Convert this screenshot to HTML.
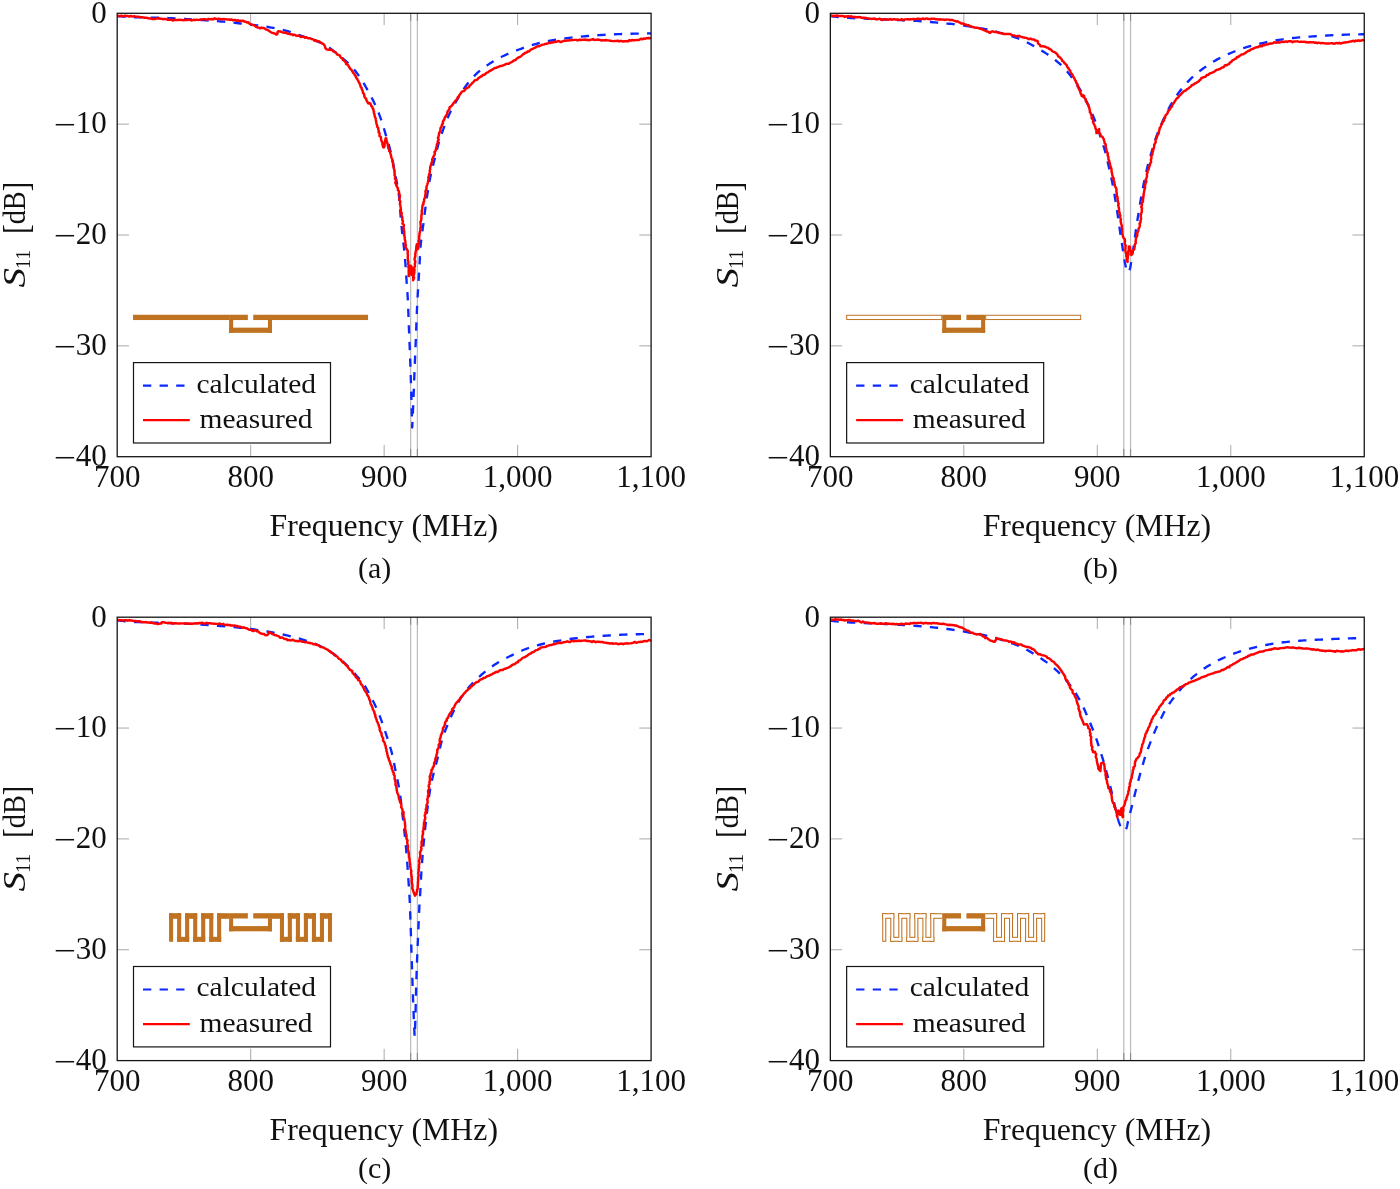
<!DOCTYPE html>
<html lang="en"><head><meta charset="utf-8"><title>S11 of four antennas: calculated vs measured</title>
<style>html,body{margin:0;padding:0;background:#fff}body{width:1400px;height:1189px;overflow:hidden}svg{display:block}text{font-family:"Liberation Serif", "DejaVu Serif", serif;fill:#111}</style></head><body>
<svg width="1400" height="1189" viewBox="0 0 1400 1189">
<rect width="1400" height="1189" fill="#fff"/>
<g id="panel-a">
<line x1="410.65" y1="13.3" x2="410.65" y2="456.7" stroke="#bcbcbc" stroke-width="1.25"/>
<line x1="410.65" y1="13.3" x2="410.65" y2="20.9" stroke="#8a8a8a" stroke-width="1.1"/>
<line x1="410.65" y1="456.7" x2="410.65" y2="449.1" stroke="#8a8a8a" stroke-width="1.1"/>
<line x1="417.4" y1="13.3" x2="417.4" y2="456.7" stroke="#bcbcbc" stroke-width="1.25"/>
<line x1="417.4" y1="13.3" x2="417.4" y2="20.9" stroke="#8a8a8a" stroke-width="1.1"/>
<line x1="417.4" y1="456.7" x2="417.4" y2="449.1" stroke="#8a8a8a" stroke-width="1.1"/>
<path d="M250.68 13.3v11.8 M250.68 456.7v-11.8" stroke="#8c8c8c" stroke-width="0.75" fill="none"/>
<path d="M117.2 124.15h11.8 M651.1 124.15h-11.8" stroke="#8c8c8c" stroke-width="0.75" fill="none"/>
<path d="M384.15 13.3v11.8 M384.15 456.7v-11.8" stroke="#8c8c8c" stroke-width="0.75" fill="none"/>
<path d="M117.2 235h11.8 M651.1 235h-11.8" stroke="#8c8c8c" stroke-width="0.75" fill="none"/>
<path d="M517.62 13.3v11.8 M517.62 456.7v-11.8" stroke="#8c8c8c" stroke-width="0.75" fill="none"/>
<path d="M117.2 345.85h11.8 M651.1 345.85h-11.8" stroke="#8c8c8c" stroke-width="0.75" fill="none"/>
<g><rect x="133.05" y="314.75" width="96.05" height="5.3" fill="#bf7220"/><rect x="272" y="314.75" width="96.05" height="5.3" fill="#bf7220"/><rect x="229.1" y="314.75" width="18.75" height="5.3" fill="#bf7220"/><rect x="229.1" y="319.75" width="4.05" height="13.1" fill="#bf7220"/><rect x="253.25" y="314.75" width="18.75" height="5.3" fill="#bf7220"/><rect x="267.95" y="319.75" width="4.05" height="13.1" fill="#bf7220"/><rect x="229.1" y="327.65" width="42.9" height="5.2" fill="#bf7220"/></g>
<path d="M117.5 16.1 L119.21 16.24 L120.92 16.39 L122.61 16.55 L124.32 16.7 L126.02 16.85 L127.75 16.98 L129.49 17.1 L131.25 17.2 L133.17 17.28 L135.11 17.34 L137.08 17.38 L139.06 17.4 L141.06 17.42 L143.05 17.44 L145.03 17.47 L147 17.5 L148.94 17.54 L150.88 17.57 L152.81 17.61 L154.74 17.65 L156.67 17.69 L158.6 17.73 L160.55 17.79 L162.5 17.85 L164.51 17.92 L166.54 18 L168.57 18.09 L170.6 18.18 L172.64 18.28 L174.68 18.39 L176.72 18.49 L178.75 18.6 L180.78 18.71 L182.81 18.83 L184.84 18.95 L186.88 19.08 L188.91 19.2 L190.94 19.33 L192.97 19.47 L195 19.6 L197.03 19.74 L199.06 19.87 L201.09 20.02 L203.13 20.16 L205.16 20.3 L207.19 20.45 L209.22 20.6 L211.25 20.75 L213.28 20.9 L215.3 21.04 L217.32 21.18 L219.34 21.33 L221.36 21.48 L223.4 21.64 L225.44 21.81 L227.5 22 L229.66 22.22 L231.85 22.45 L234.05 22.7 L236.25 22.96 L238.46 23.22 L240.66 23.49 L242.84 23.75 L245 24 L247.07 24.23 L249.14 24.46 L251.2 24.68 L253.25 24.91 L255.29 25.14 L257.3 25.37 L259.29 25.63 L261.25 25.9 L263.02 26.16 L264.74 26.43 L266.44 26.7 L268.12 26.99 L269.8 27.29 L271.5 27.6 L273.22 27.94 L275 28.3 L277.06 28.73 L279.19 29.19 L281.36 29.67 L283.55 30.17 L285.74 30.7 L287.89 31.24 L289.98 31.81 L292 32.4 L293.72 32.95 L295.39 33.53 L297.02 34.14 L298.62 34.76 L300.21 35.38 L301.79 36 L303.39 36.61 L305 37.2 L306.63 37.75 L308.27 38.27 L309.91 38.78 L311.56 39.29 L313.19 39.8 L314.82 40.35 L316.42 40.95 L318 41.6 L319.56 42.31 L321.11 43.06 L322.65 43.84 L324.17 44.66 L325.67 45.5 L327.14 46.38 L328.59 47.28 L330 48.2 L331.33 49.12 L332.61 50.07 L333.87 51.06 L335.1 52.06 L336.33 53.08 L337.54 54.12 L338.76 55.16 L340 56.2 L341.29 57.26 L342.58 58.32 L343.87 59.38 L345.17 60.45 L346.45 61.55 L347.72 62.68 L348.97 63.86 L350.2 65.1 L351.52 66.52 L352.82 68 L354.1 69.52 L355.37 71.1 L356.61 72.71 L357.83 74.35 L359.03 76.02 L360.2 77.7 L361.39 79.48 L362.54 81.31 L363.67 83.17 L364.78 85.06 L365.86 86.97 L366.92 88.89 L367.97 90.8 L369 92.7 L370 94.56 L370.99 96.42 L371.97 98.29 L372.93 100.16 L373.86 102.03 L374.77 103.92 L375.65 105.8 L376.5 107.7 L377.3 109.58 L378.08 111.48 L378.83 113.39 L379.56 115.3 L380.26 117.21 L380.93 119.1 L381.58 120.97 L382.2 122.8 L382.72 124.4 L383.21 125.97 L383.67 127.51 L384.12 129.04 L384.55 130.57 L384.99 132.12 L385.43 133.69 L385.9 135.3 L386.44 137.09 L386.99 138.9 L387.56 140.73 L388.12 142.58 L388.69 144.45 L389.24 146.36 L389.78 148.31 L390.3 150.3 L390.86 152.61 L391.39 154.97 L391.91 157.37 L392.41 159.82 L392.91 162.31 L393.4 164.84 L393.9 167.4 L394.4 170 L394.99 172.99 L395.59 176.06 L396.21 179.2 L396.82 182.38 L397.41 185.57 L397.96 188.75 L398.46 191.9 L398.9 195 L399.24 197.9 L399.52 200.79 L399.76 203.68 L399.96 206.54 L400.15 209.39 L400.33 212.2 L400.53 214.97 L400.75 217.7 L400.97 220.16 L401.2 222.62 L401.43 225.05 L401.67 227.45 L401.9 229.81 L402.13 232.11 L402.37 234.35 L402.6 236.5 L402.79 238.16 L402.98 239.74 L403.17 241.25 L403.36 242.73 L403.55 244.21 L403.73 245.73 L403.92 247.31 L404.1 249 L404.33 251.28 L404.55 253.68 L404.77 256.18 L404.99 258.74 L405.21 261.34 L405.41 263.93 L405.61 266.5 L405.8 269 L405.97 271.42 L406.14 273.9 L406.29 276.38 L406.44 278.85 L406.59 281.26 L406.73 283.58 L406.86 285.77 L407 287.8 L407.09 289.07 L407.18 290.2 L407.27 291.25 L407.36 292.27 L407.44 293.3 L407.53 294.4 L407.61 295.61 L407.7 297 L407.85 299.97 L408.01 303.39 L408.16 307.15 L408.3 311.16 L408.45 315.31 L408.6 319.51 L408.75 323.64 L408.9 327.6 L409.06 331.5 L409.22 335.4 L409.38 339.31 L409.54 343.23 L409.7 347.14 L409.85 351.06 L410.01 354.98 L410.15 358.9 L410.29 362.8 L410.42 366.67 L410.54 370.54 L410.67 374.4 L410.79 378.29 L410.91 382.22 L411.03 386.2 L411.15 390.25 L411.28 394.75 L411.42 399.34 L411.55 403.98 L411.68 408.67 L411.81 413.39 L411.94 418.11 L412.07 422.82 L412.2 427.5 L412.34 424.43 L412.48 421.39 L412.61 418.37 L412.75 415.33 L412.89 412.28 L413.03 409.18 L413.16 406.03 L413.3 402.8 L413.45 399.07 L413.6 395.24 L413.75 391.34 L413.9 387.38 L414.04 383.4 L414.19 379.42 L414.35 375.44 L414.5 371.5 L414.66 367.58 L414.82 363.65 L414.98 359.73 L415.15 355.8 L415.32 351.87 L415.48 347.95 L415.64 344.02 L415.8 340.1 L415.95 336.12 L416.11 332.05 L416.26 327.93 L416.4 323.84 L416.55 319.83 L416.7 315.94 L416.85 312.25 L417 308.8 L417.11 306.47 L417.22 304.3 L417.32 302.24 L417.43 300.24 L417.54 298.26 L417.66 296.26 L417.77 294.19 L417.9 292 L418.06 289.3 L418.22 286.53 L418.4 283.68 L418.57 280.79 L418.76 277.85 L418.94 274.9 L419.12 271.95 L419.3 269 L419.47 265.92 L419.63 262.81 L419.79 259.67 L419.94 256.52 L420.11 253.37 L420.31 250.23 L420.53 247.1 L420.8 244 L421.12 240.96 L421.48 237.88 L421.88 234.79 L422.3 231.72 L422.72 228.7 L423.14 225.76 L423.54 222.91 L423.9 220.2 L424.15 218.18 L424.38 216.29 L424.6 214.48 L424.81 212.71 L425.03 210.94 L425.26 209.11 L425.51 207.18 L425.8 205.1 L426.24 202.02 L426.72 198.68 L427.24 195.16 L427.8 191.54 L428.37 187.89 L428.97 184.3 L429.58 180.85 L430.2 177.6 L430.74 175.02 L431.3 172.52 L431.87 170.09 L432.46 167.7 L433.05 165.36 L433.65 163.06 L434.23 160.77 L434.8 158.5 L435.3 156.46 L435.79 154.45 L436.27 152.48 L436.74 150.52 L437.23 148.58 L437.73 146.65 L438.25 144.73 L438.8 142.8 L439.37 140.9 L439.95 139.01 L440.55 137.13 L441.17 135.26 L441.8 133.39 L442.45 131.52 L443.11 129.66 L443.8 127.8 L444.51 125.91 L445.23 124.01 L445.97 122.12 L446.73 120.23 L447.51 118.34 L448.32 116.48 L449.14 114.63 L450 112.8 L450.87 111.03 L451.77 109.28 L452.7 107.54 L453.65 105.82 L454.61 104.11 L455.6 102.41 L456.59 100.71 L457.6 99 L458.63 97.25 L459.66 95.5 L460.7 93.74 L461.77 91.99 L462.85 90.26 L463.98 88.54 L465.14 86.85 L466.35 85.2 L467.63 83.55 L468.95 81.9 L470.31 80.28 L471.71 78.68 L473.14 77.11 L474.6 75.59 L476.09 74.12 L477.6 72.7 L479.09 71.39 L480.6 70.12 L482.15 68.9 L483.72 67.72 L485.32 66.58 L486.93 65.46 L488.56 64.37 L490.2 63.3 L491.85 62.25 L493.52 61.24 L495.21 60.25 L496.91 59.29 L498.63 58.36 L500.37 57.45 L502.13 56.57 L503.9 55.7 L505.73 54.84 L507.59 54.02 L509.46 53.22 L511.36 52.44 L513.26 51.68 L515.17 50.94 L517.09 50.22 L519 49.5 L520.92 48.79 L522.84 48.09 L524.76 47.41 L526.7 46.74 L528.64 46.1 L530.58 45.47 L532.54 44.87 L534.5 44.3 L536.48 43.76 L538.46 43.24 L540.45 42.75 L542.45 42.28 L544.45 41.83 L546.46 41.4 L548.48 40.99 L550.5 40.6 L552.55 40.22 L554.6 39.87 L556.66 39.54 L558.73 39.22 L560.8 38.93 L562.87 38.64 L564.94 38.37 L567 38.1 L569.03 37.85 L571.07 37.61 L573.1 37.39 L575.13 37.18 L577.16 36.97 L579.19 36.78 L581.22 36.59 L583.25 36.4 L585.28 36.22 L587.31 36.04 L589.34 35.86 L591.37 35.7 L593.4 35.54 L595.44 35.38 L597.47 35.24 L599.5 35.1 L601.53 34.97 L603.56 34.85 L605.59 34.73 L607.62 34.63 L609.66 34.52 L611.69 34.43 L613.72 34.34 L615.75 34.25 L617.77 34.17 L619.78 34.1 L621.79 34.03 L623.8 33.97 L625.81 33.91 L627.85 33.85 L629.91 33.8 L632 33.75 L634.3 33.7 L636.65 33.65 L639.02 33.6 L641.41 33.56 L643.81 33.52 L646.22 33.48 L648.61 33.44 L651 33.4" fill="none" stroke="#0a28ff" stroke-width="2.35" stroke-dasharray="8.3 8.3" stroke-linejoin="round"/>
<path d="M117.5 15.75 L118.79 15.95 L120.09 16.27 L121.41 15.52 L122.69 16.27 L123.99 16.05 L125.31 15.67 L126.6 15.99 L127.89 16.09 L129.17 16.56 L130.51 15.96 L131.79 16.28 L133.08 16.5 L134.41 16.16 L135.67 16.76 L136.97 16.8 L138.28 16.66 L139.57 16.89 L140.83 17.3 L142.16 17.15 L143.41 17.56 L144.69 17.8 L146.02 17.75 L147.29 18 L148.57 18.27 L149.85 18.48 L151.15 18.49 L152.41 19.04 L153.73 18.88 L155.05 18.99 L156.31 18.39 L157.63 18.5 L158.95 18.23 L160.21 18.8 L161.52 18.67 L162.77 19.19 L164.1 19.04 L165.41 18.98 L166.68 19.3 L167.94 19.76 L169.25 19.74 L170.56 19.69 L171.85 19.92 L173.13 20.54 L174.46 19.8 L175.76 19.94 L177.06 19.97 L178.36 19.94 L179.66 19.68 L180.96 19.98 L182.26 19.91 L183.55 20.37 L184.86 19.81 L186.16 20.09 L187.46 19.99 L188.76 19.56 L190.06 19.97 L191.36 20.43 L192.66 20.17 L193.95 19.72 L195.25 19.94 L196.54 19.73 L197.85 19.85 L199.16 19.91 L200.43 19.5 L201.72 19.36 L203.02 19.3 L204.33 19.34 L205.63 19.29 L206.97 19.91 L208.21 18.79 L209.53 19.23 L210.84 19.33 L212.13 19.03 L213.44 19.37 L214.7 18.2 L216.03 18.98 L217.33 18.87 L218.63 18.65 L219.93 19.06 L221.23 19.29 L222.52 19.29 L223.83 18.87 L225.11 19.37 L226.42 19.26 L227.69 19.63 L229.01 19.5 L230.27 19.97 L231.63 19.43 L232.84 20.31 L234.17 20.06 L235.49 20.05 L236.69 20.86 L238.1 20.18 L239.3 20.96 L240.65 20.71 L241.91 21.08 L243.28 20.83 L244.45 21.63 L245.78 21.68 L246.9 22.46 L248.4 22.29 L249.24 23.57 L250.46 24.02 L251.55 24.75 L252.8 25.15 L254.22 25.21 L255.23 26.1 L256.26 26.95 L257.48 27.45 L258.79 27.64 L260.06 28.37 L261.33 27.54 L262.61 28.02 L263.91 28.08 L265.04 28.69 L266.05 29.52 L267.4 29.87 L268.46 30.56 L269.51 31.3 L270.62 32 L271.76 32.65 L273.01 33.04 L274.27 33.39 L275.41 34.04 L276.58 34.61 L277.51 33.62 L277.4 32.19 L278.33 31.14 L279.4 31.43 L280.7 31.58 L281.9 32.16 L283.15 32.49 L284.41 32.82 L285.83 32.54 L286.94 33.43 L288.18 33.8 L289.49 33.96 L290.74 34.31 L292.06 34.38 L293.2 35.16 L294.67 34.65 L295.8 35.51 L297.07 35.78 L298.44 35.62 L299.63 36.18 L300.81 36.92 L302.14 36.9 L303.53 36.49 L304.64 37.72 L306.06 37.17 L307.26 37.8 L308.47 38.38 L309.87 38.13 L311.05 38.76 L312.24 39.31 L313.59 39.38 L314.48 40.71 L316.03 40.28 L316.99 41.38 L318.53 41.11 L319.65 41.79 L320.71 42.61 L321.86 43.2 L322.99 43.87 L323.91 44.51 L324.68 45.59 L325.07 46.83 L325.37 48.13 L326.28 49.14 L327.33 49.47 L328.62 49.68 L329.94 49.47 L331.16 50.07 L332.51 50.27 L333.42 51.34 L334.56 51.95 L335.79 52.46 L336.54 53.62 L337.39 54.64 L338.77 55.01 L339.96 55.64 L340.43 57.05 L341.28 58.04 L342.72 58.46 L342.96 60 L344.14 60.69 L345.05 61.63 L345.91 62.6 L346.07 64.13 L347.5 64.66 L348.45 65.57 L348.92 66.85 L349.81 67.8 L350.28 69.07 L351.46 69.82 L352.08 70.97 L352.82 72.05 L353.46 73.18 L354.49 74.05 L354.82 75.39 L355.85 76.28 L356.05 77.69 L357.01 78.62 L357.64 79.76 L358.3 80.88 L358.74 82.12 L359.49 83.19 L359.94 84.42 L360.44 85.62 L360.7 86.92 L361.62 87.94 L361.76 89.28 L362.5 90.38 L362.8 91.66 L362.98 92.97 L364.02 93.99 L364.23 95.29 L364.43 96.61 L364.97 97.81 L366.23 98.66 L366.35 100.03 L366.96 101.18 L367.64 102.29 L368.27 103.43 L368.87 103.07 L370.45 103.37 L370.82 104.64 L371.17 105.91 L372.29 106.82 L372.56 108.13 L373.42 109.23 L373.43 110.59 L374.07 111.75 L373.83 113.18 L374.55 114.33 L374.58 115.67 L374.91 116.92 L375.61 118.09 L375.72 119.4 L376.01 120.67 L376.21 121.96 L376.42 123.25 L376.73 124.51 L377.22 125.73 L377.3 127.05 L378.23 128.15 L378.27 129.48 L378.8 130.69 L378.54 132.11 L379.51 133.19 L379.53 134.53 L379.48 135.9 L380.79 136.87 L380.96 138.18 L381.07 139.5 L381.43 140.75 L382.02 141.93 L382.45 143.16 L382.43 144.53 L382.84 145.76 L383.08 147.05 L383.84 147.43 L384.35 146.21 L384.66 144.95 L384.63 143.62 L384.9 142.34 L384.92 141.02 L385.4 139.79 L385.6 138.51 L386.24 138.27 L386.38 139.59 L386.73 140.84 L387.08 142.09 L387.31 143.37 L387.97 144.54 L387.81 145.93 L388.23 147.17 L388.37 148.48 L389.38 149.55 L389.13 150.97 L390.07 152.05 L390.38 153.31 L390.8 154.54 L391.08 155.82 L391.23 157.13 L391.73 158.34 L392.36 159.52 L392.3 160.87 L392.7 162.11 L393.11 163.35 L393.05 164.68 L393.21 165.97 L393.66 167.21 L393.87 168.49 L394.16 169.77 L394.68 171.01 L394.28 172.37 L394.82 173.61 L394.47 174.97 L395.07 176.2 L395.03 177.52 L394.96 178.84 L395.91 180.02 L395.61 181.38 L395.27 182.77 L395.88 183.97 L396.35 185.22 L396.84 186.42 L397.47 187.57 L398.02 188.74 L397.86 190.17 L398.91 191.19 L399.05 192.5 L399.21 193.79 L399.79 195.04 L399.91 196.34 L399.68 197.66 L399.19 198.98 L399.59 200.26 L400.29 201.51 L400.17 202.83 L399.91 204.16 L400.32 205.41 L400.5 206.7 L400.69 207.99 L400.89 209.27 L401.01 210.57 L400.7 211.94 L401.85 213.06 L401.38 214.46 L401.75 215.72 L402.19 216.96 L402.38 218.25 L402.16 219.6 L402.85 220.81 L402.74 222.13 L402.47 223.48 L403.81 224.63 L403.82 225.94 L403.5 227.28 L403.81 228.55 L403.58 229.89 L404.22 231.12 L404.14 232.44 L404.45 233.71 L404.03 235.07 L404.52 236.32 L404.83 237.59 L404.71 238.92 L404.97 240.2 L405.37 241.46 L405.46 242.76 L405.39 244.07 L405.94 245.31 L405.32 246.71 L406 247.93 L406.64 249.04 L407.35 250.09 L407.85 251.26 L407.66 252.57 L407.77 253.87 L407.95 255.16 L407.84 256.47 L407.74 257.78 L407.93 259.07 L407.87 260.37 L408.43 261.65 L408.27 262.96 L408.21 264.26 L408.85 265.53 L408.33 266.86 L408.79 268.14 L408.69 269.44 L408.71 270.75 L408.6 272.05 L408.83 273.34 L408.69 274.65 L408.69 275.95 L408.92 275.95 L408.98 274.64 L409.75 273.46 L409.34 272.07 L410.24 270.9 L410.26 269.59 L410.61 268.33 L410.06 266.92 L410.61 265.69 L411.25 266.16 L411.84 267.42 L411.19 268.77 L411.33 270.06 L411.02 271.38 L411.18 272.67 L411.51 273.96 L411.46 274.74 L411.67 273.45 L411.87 272.16 L412.2 270.89 L411.78 269.55 L411.78 268.24 L412.21 268.62 L412.54 269.9 L411.82 271.28 L412.33 272.53 L413.05 273.76 L412.89 275.09 L412.98 276.39 L413.16 277.67 L413.26 278.97 L413.13 280.29 L413.58 279.05 L414.09 277.81 L413.76 276.45 L413.61 275.13 L414.12 273.88 L414.4 272.6 L414.22 271.28 L414.62 270.01 L414.19 268.67 L414.35 267.38 L414.98 266.12 L414.84 264.81 L414.84 263.51 L415.28 262.23 L415.15 260.92 L414.5 259.58 L414.62 258.29 L415.02 257.01 L415.39 255.73 L415.12 254.4 L415.55 253.13 L415.6 251.83 L416.14 250.57 L416.15 249.28 L416.26 247.99 L416.36 246.68 L416.58 245.4 L416.9 244.14 L417.27 245.11 L418.23 246.2 L417.15 247.83 L418.1 248.92 L418.5 247.84 L418.07 246.49 L418.42 245.22 L419.2 243.99 L418.94 242.66 L418.45 241.3 L419.11 240.06 L419.16 238.76 L419.27 237.46 L419.1 236.14 L419.53 234.88 L419.45 233.56 L419.93 232.3 L419.99 231 L420.66 229.76 L420.2 228.41 L420.87 227.17 L420.71 225.85 L420.57 224.53 L420.55 223.23 L420.39 221.91 L420.96 220.65 L421.28 219.37 L421.44 218.08 L421.32 216.77 L421.37 215.47 L421.81 214.2 L421.87 212.9 L421.75 211.58 L421.86 210.28 L422.28 209.03 L422.28 207.72 L422.41 206.42 L422.6 205.14 L423.55 204 L423.27 202.61 L424.17 201.51 L424.09 200.15 L424.25 198.84 L425.14 197.72 L425.09 196.37 L425.29 195.08 L425.61 193.82 L425.51 192.47 L425.46 191.14 L426.13 189.94 L426.6 188.71 L426.34 187.34 L426.73 186.09 L427.2 184.85 L427.5 183.59 L427.89 182.33 L428.2 181.07 L428.36 179.78 L428.44 178.47 L428.32 177.13 L428.85 175.91 L429.16 174.64 L429.57 173.4 L429.82 172.13 L429.69 170.77 L430.14 169.54 L430.14 168.21 L430.3 166.91 L430.72 165.67 L431.19 164.45 L431.36 163.15 L432.05 161.99 L432.38 160.73 L432.12 159.3 L432.94 158.19 L433.15 156.89 L433.97 155.79 L434.54 154.61 L434.92 153.37 L434.46 151.84 L435.56 150.84 L435.91 149.58 L436.11 148.28 L436.4 147.02 L436.93 145.81 L436.77 144.44 L437.64 143.29 L437.67 141.98 L437.99 140.71 L438.76 139.53 L437.87 138.05 L438.5 136.84 L438.66 135.55 L439.01 134.29 L439.09 132.97 L439.91 131.84 L440.44 130.63 L440.36 129.28 L440.53 127.96 L441.42 126.9 L441.74 125.63 L442.06 124.36 L443 123.35 L442.81 121.85 L443.37 120.67 L444.27 119.65 L444.57 118.36 L444.94 117.1 L445.87 116.09 L446.5 114.95 L447.29 113.89 L447.33 112.47 L447.73 111.21 L448.57 110.18 L449.48 109.2 L449.42 107.66 L450.38 106.68 L451.52 105.91 L452.32 104.88 L453.13 103.87 L453.81 102.74 L454.74 101.82 L455.37 100.69 L456.47 99.87 L457.31 98.85 L457.61 97.5 L458.6 96.59 L459.16 95.41 L459.94 94.36 L460.79 93.38 L461.45 92.2 L462.41 91.33 L463.85 91.03 L464.77 90.1 L465.62 89.06 L466.67 88.3 L467.73 87.55 L469.05 87.07 L469.49 85.63 L470.6 84.91 L471.51 83.99 L472.26 82.88 L473.4 82.2 L474.11 81.03 L475.11 80.15 L476.6 79.96 L477.65 79.21 L478.44 78.07 L479.6 77.46 L480.55 76.53 L481.94 76.29 L482.63 74.95 L484.1 74.84 L485.24 74.22 L486.06 73.08 L487.24 72.51 L488.47 72.03 L489.38 71.02 L490.63 70.59 L491.74 69.9 L492.86 69.25 L493.93 68.46 L495.13 67.96 L496.48 67.8 L497.55 66.96 L498.85 66.72 L499.99 66.03 L501.38 66.11 L502.53 65.46 L503.78 65.08 L504.96 64.52 L506.15 63.97 L507.48 63.82 L508.84 63.72 L509.88 62.83 L511.15 62.45 L512.28 61.8 L513.27 60.88 L514.34 60.16 L515.76 59.97 L516.51 58.72 L517.66 58.11 L518.73 57.38 L519.95 56.85 L521.12 56.25 L522.02 55.28 L522.91 54.26 L524.13 53.75 L525.09 52.82 L526.5 52.64 L527.36 51.55 L528.86 51.53 L529.81 50.58 L530.79 49.68 L531.97 49.13 L533.22 48.7 L534.27 47.9 L535.53 47.53 L536.54 46.61 L537.8 46.22 L539.2 46.22 L540.32 45.54 L541.51 44.99 L542.76 44.62 L544.09 44.54 L545.24 43.85 L546.57 43.83 L547.79 43.33 L548.96 42.65 L550.37 43.05 L551.55 42.32 L552.89 42.54 L554.12 41.84 L555.45 41.99 L556.71 41.59 L557.97 41.09 L559.29 41.23 L560.67 42.1 L561.92 41.52 L563.18 41.04 L564.46 40.69 L565.76 40.66 L567.06 40.56 L568.36 40.48 L569.65 40.32 L570.96 40.35 L572.24 40.04 L573.54 40.07 L574.84 39.86 L576.14 39.88 L577.47 40.46 L578.75 39.98 L580.04 39.78 L581.35 39.97 L582.64 39.67 L583.95 39.82 L585.24 39.54 L586.55 39.99 L587.85 39.84 L589.15 40.27 L590.45 39.81 L591.75 39.59 L593.05 39.1 L594.34 39.93 L595.65 39.89 L596.95 39.82 L598.26 39.5 L599.55 39.87 L600.83 40.21 L602.11 40.52 L603.44 40.12 L604.72 40.46 L606.05 40.04 L607.34 40.27 L608.64 40.36 L609.91 40.71 L611.21 40.82 L612.5 41.15 L613.8 41.12 L615.11 40.91 L616.41 41 L617.73 40.65 L619 41.45 L620.31 40.97 L621.61 41.03 L622.91 41.49 L624.21 41.12 L625.51 41.19 L626.81 41.18 L628.15 41.41 L629.33 40.1 L630.7 40.72 L631.93 40.06 L633.25 40.18 L634.57 40.24 L635.86 40.1 L637.16 40.03 L638.47 39.99 L639.73 39.61 L640.91 38.74 L642.32 39.35 L643.52 38.59 L644.86 38.72 L646.1 38.29 L647.42 38.3 L648.7 38.06 L650.05 38.28 L651 37.75" fill="none" stroke="#ff0000" stroke-width="2.45" stroke-linejoin="round"/>
<rect x="117.2" y="13.3" width="533.9" height="443.4" fill="none" stroke="#151515" stroke-width="1.3"/>
<rect x="133.5" y="362.6" width="197" height="80.4" fill="#fff" stroke="#151515" stroke-width="1.2"/>
<line x1="143" y1="385.6" x2="184.5" y2="385.6" stroke="#0a28ff" stroke-width="2.2" stroke-dasharray="8.3 8.3"/>
<line x1="143" y1="420.15" x2="189.8" y2="420.15" stroke="#ff0000" stroke-width="2.2"/>
<text x="196.5" y="392.5" font-size="27.5" textLength="119.5" lengthAdjust="spacingAndGlyphs">calculated</text>
<text x="199.6" y="427.6" font-size="27.5" textLength="113" lengthAdjust="spacingAndGlyphs">measured</text>
<text x="106.8" y="23.4" font-size="31" text-anchor="end">0</text>
<text y="133.05" font-size="31"><tspan x="53.7" dy="2.1" textLength="22.3" lengthAdjust="spacingAndGlyphs">−</tspan><tspan x="75.8" dy="-2.1">10</tspan></text>
<text y="243.9" font-size="31"><tspan x="53.7" dy="2.1" textLength="22.3" lengthAdjust="spacingAndGlyphs">−</tspan><tspan x="75.8" dy="-2.1">20</tspan></text>
<text y="354.75" font-size="31"><tspan x="53.7" dy="2.1" textLength="22.3" lengthAdjust="spacingAndGlyphs">−</tspan><tspan x="75.8" dy="-2.1">30</tspan></text>
<text y="465.6" font-size="31"><tspan x="53.7" dy="2.1" textLength="22.3" lengthAdjust="spacingAndGlyphs">−</tspan><tspan x="75.8" dy="-2.1">40</tspan></text>
<text x="117.2" y="486.9" font-size="31" text-anchor="middle">700</text>
<text x="250.68" y="486.9" font-size="31" text-anchor="middle">800</text>
<text x="384.15" y="486.9" font-size="31" text-anchor="middle">900</text>
<text x="517.62" y="486.9" font-size="31" text-anchor="middle">1,000</text>
<text x="651.1" y="486.9" font-size="31" text-anchor="middle">1,100</text>
<text x="383.75" y="535.7" font-size="31" text-anchor="middle" textLength="228.5" lengthAdjust="spacingAndGlyphs">Frequency (MHz)</text>
<text transform="translate(25.3 287.5) rotate(-90)" font-size="31"><tspan x="0" font-style="italic" textLength="19.5" lengthAdjust="spacingAndGlyphs">S</tspan><tspan x="18.4" dy="4.5" font-size="20">11</tspan><tspan x="53.7" dy="-1.9" font-size="36.5" textLength="9.43" lengthAdjust="spacingAndGlyphs">[</tspan><tspan x="63.13" dy="-2.6" textLength="33.07" lengthAdjust="spacingAndGlyphs">dB</tspan><tspan x="96.2" dy="2.6" font-size="36.5" textLength="9.43" lengthAdjust="spacingAndGlyphs">]</tspan></text>
<text x="374.7" y="578.4" font-size="30" text-anchor="middle">(a)</text>
</g>
<g id="panel-b">
<line x1="1123.8" y1="13.3" x2="1123.8" y2="456.7" stroke="#bcbcbc" stroke-width="1.25"/>
<line x1="1123.8" y1="13.3" x2="1123.8" y2="20.9" stroke="#8a8a8a" stroke-width="1.1"/>
<line x1="1123.8" y1="456.7" x2="1123.8" y2="449.1" stroke="#8a8a8a" stroke-width="1.1"/>
<line x1="1130.55" y1="13.3" x2="1130.55" y2="456.7" stroke="#bcbcbc" stroke-width="1.25"/>
<line x1="1130.55" y1="13.3" x2="1130.55" y2="20.9" stroke="#8a8a8a" stroke-width="1.1"/>
<line x1="1130.55" y1="456.7" x2="1130.55" y2="449.1" stroke="#8a8a8a" stroke-width="1.1"/>
<path d="M963.83 13.3v11.8 M963.83 456.7v-11.8" stroke="#8c8c8c" stroke-width="0.75" fill="none"/>
<path d="M830.35 124.15h11.8 M1364.25 124.15h-11.8" stroke="#8c8c8c" stroke-width="0.75" fill="none"/>
<path d="M1097.3 13.3v11.8 M1097.3 456.7v-11.8" stroke="#8c8c8c" stroke-width="0.75" fill="none"/>
<path d="M830.35 235h11.8 M1364.25 235h-11.8" stroke="#8c8c8c" stroke-width="0.75" fill="none"/>
<path d="M1230.78 13.3v11.8 M1230.78 456.7v-11.8" stroke="#8c8c8c" stroke-width="0.75" fill="none"/>
<path d="M830.35 345.85h11.8 M1364.25 345.85h-11.8" stroke="#8c8c8c" stroke-width="0.75" fill="none"/>
<g><rect x="846.7" y="315.25" width="95.05" height="4.3" fill="#fff" stroke="#bf7220" stroke-width="1"/><rect x="985.65" y="315.25" width="95.05" height="4.3" fill="#fff" stroke="#bf7220" stroke-width="1"/><rect x="942.25" y="314.75" width="18.75" height="5.3" fill="#bf7220"/><rect x="942.25" y="319.75" width="4.05" height="13.1" fill="#bf7220"/><rect x="966.4" y="314.75" width="18.75" height="5.3" fill="#bf7220"/><rect x="981.1" y="319.75" width="4.05" height="13.1" fill="#bf7220"/><rect x="942.25" y="327.65" width="42.9" height="5.2" fill="#bf7220"/></g>
<path d="M830.5 16.1 L832.05 16.28 L833.59 16.46 L835.11 16.65 L836.65 16.84 L838.19 17.02 L839.76 17.19 L841.36 17.35 L843 17.5 L844.93 17.65 L846.9 17.78 L848.92 17.9 L850.97 18.01 L853.04 18.11 L855.12 18.21 L857.19 18.3 L859.25 18.4 L861.33 18.5 L863.42 18.59 L865.51 18.67 L867.6 18.76 L869.7 18.84 L871.8 18.92 L873.9 19.01 L876 19.1 L878.12 19.2 L880.25 19.3 L882.38 19.4 L884.52 19.51 L886.65 19.61 L888.77 19.71 L890.89 19.81 L893 19.9 L895.05 19.98 L897.1 20.05 L899.13 20.12 L901.17 20.18 L903.2 20.25 L905.22 20.32 L907.24 20.41 L909.25 20.5 L911.22 20.6 L913.18 20.71 L915.13 20.82 L917.08 20.95 L919.03 21.07 L920.98 21.21 L922.93 21.35 L924.9 21.5 L926.91 21.66 L928.93 21.84 L930.95 22.02 L932.98 22.21 L935.01 22.41 L937.04 22.61 L939.07 22.8 L941.1 23 L943.14 23.19 L945.18 23.37 L947.23 23.56 L949.27 23.74 L951.32 23.93 L953.35 24.14 L955.38 24.36 L957.4 24.6 L959.37 24.86 L961.32 25.13 L963.27 25.42 L965.21 25.72 L967.15 26.03 L969.09 26.35 L971.04 26.67 L973 27 L975.02 27.33 L977.04 27.66 L979.08 27.99 L981.11 28.33 L983.15 28.68 L985.19 29.06 L987.22 29.46 L989.25 29.9 L991.31 30.38 L993.37 30.9 L995.43 31.44 L997.48 32.01 L999.53 32.59 L1001.57 33.19 L1003.6 33.79 L1005.6 34.4 L1007.52 34.98 L1009.41 35.55 L1011.3 36.13 L1013.18 36.71 L1015.04 37.33 L1016.9 37.97 L1018.75 38.66 L1020.6 39.4 L1022.5 40.22 L1024.41 41.1 L1026.3 42.01 L1028.19 42.97 L1030.07 43.95 L1031.93 44.95 L1033.78 45.97 L1035.6 47 L1037.38 48.02 L1039.15 49.06 L1040.9 50.11 L1042.64 51.18 L1044.36 52.28 L1046.06 53.39 L1047.74 54.53 L1049.4 55.7 L1051.04 56.88 L1052.66 58.08 L1054.27 59.29 L1055.87 60.53 L1057.43 61.8 L1058.96 63.1 L1060.45 64.43 L1061.9 65.8 L1063.27 67.18 L1064.6 68.59 L1065.88 70.03 L1067.14 71.51 L1068.37 73.01 L1069.58 74.54 L1070.79 76.1 L1072 77.7 L1073.31 79.46 L1074.62 81.28 L1075.91 83.13 L1077.2 85.02 L1078.45 86.93 L1079.68 88.86 L1080.86 90.78 L1082 92.7 L1083.05 94.55 L1084.05 96.41 L1085.02 98.27 L1085.95 100.15 L1086.86 102.03 L1087.75 103.92 L1088.63 105.81 L1089.5 107.7 L1090.35 109.57 L1091.18 111.45 L1092 113.33 L1092.8 115.22 L1093.58 117.11 L1094.34 119.01 L1095.08 120.9 L1095.8 122.8 L1096.48 124.67 L1097.14 126.55 L1097.78 128.44 L1098.4 130.33 L1099.01 132.21 L1099.61 134.09 L1100.2 135.95 L1100.8 137.8 L1101.37 139.55 L1101.95 141.27 L1102.52 142.99 L1103.08 144.7 L1103.64 146.41 L1104.18 148.12 L1104.7 149.85 L1105.2 151.6 L1105.69 153.4 L1106.15 155.2 L1106.59 157.01 L1107.01 158.83 L1107.43 160.66 L1107.85 162.52 L1108.27 164.4 L1108.7 166.3 L1109.18 168.41 L1109.67 170.56 L1110.16 172.74 L1110.64 174.95 L1111.13 177.16 L1111.6 179.38 L1112.06 181.6 L1112.5 183.8 L1112.92 186 L1113.34 188.21 L1113.74 190.42 L1114.13 192.63 L1114.51 194.84 L1114.88 197.04 L1115.24 199.23 L1115.6 201.4 L1115.94 203.46 L1116.26 205.5 L1116.58 207.53 L1116.88 209.55 L1117.19 211.57 L1117.49 213.6 L1117.79 215.64 L1118.1 217.7 L1118.42 219.86 L1118.73 222.05 L1119.04 224.24 L1119.35 226.45 L1119.66 228.66 L1119.97 230.86 L1120.28 233.04 L1120.6 235.2 L1120.91 237.29 L1121.24 239.38 L1121.56 241.48 L1121.89 243.56 L1122.22 245.62 L1122.54 247.64 L1122.85 249.6 L1123.15 251.5 L1123.39 253.05 L1123.62 254.58 L1123.85 256.09 L1124.07 257.56 L1124.29 258.99 L1124.52 260.38 L1124.75 261.72 L1125 263 L1125.2 263.99 L1125.39 264.96 L1125.59 265.92 L1125.79 266.84 L1126 267.72 L1126.22 268.55 L1126.45 269.31 L1126.7 270 L1126.87 270.4 L1127.05 270.76 L1127.24 271.09 L1127.43 271.39 L1127.62 271.69 L1127.82 271.99 L1128.01 272.29 L1128.2 272.6 L1128.38 272.29 L1128.56 271.99 L1128.74 271.7 L1128.92 271.4 L1129.1 271.1 L1129.27 270.77 L1129.44 270.4 L1129.6 270 L1129.84 269.24 L1130.06 268.38 L1130.26 267.44 L1130.45 266.43 L1130.64 265.37 L1130.82 264.27 L1131 263.14 L1131.2 262 L1131.47 260.45 L1131.74 258.8 L1132.02 257.09 L1132.3 255.32 L1132.58 253.51 L1132.85 251.67 L1133.13 249.83 L1133.4 248 L1133.69 246 L1133.98 243.97 L1134.26 241.91 L1134.54 239.83 L1134.83 237.74 L1135.11 235.65 L1135.4 233.57 L1135.7 231.5 L1136 229.46 L1136.3 227.44 L1136.61 225.43 L1136.91 223.41 L1137.23 221.39 L1137.54 219.35 L1137.87 217.29 L1138.2 215.2 L1138.57 212.9 L1138.94 210.56 L1139.32 208.19 L1139.71 205.8 L1140.1 203.41 L1140.5 201.03 L1140.9 198.69 L1141.3 196.4 L1141.68 194.3 L1142.06 192.24 L1142.44 190.2 L1142.82 188.17 L1143.22 186.16 L1143.62 184.14 L1144.03 182.13 L1144.45 180.1 L1144.89 178.04 L1145.34 175.96 L1145.8 173.86 L1146.27 171.78 L1146.75 169.71 L1147.23 167.68 L1147.72 165.71 L1148.2 163.8 L1148.61 162.24 L1149.02 160.76 L1149.42 159.32 L1149.83 157.9 L1150.25 156.48 L1150.68 155.04 L1151.13 153.56 L1151.6 152 L1152.18 150.04 L1152.78 148 L1153.4 145.89 L1154.04 143.76 L1154.7 141.6 L1155.38 139.46 L1156.08 137.35 L1156.8 135.3 L1157.52 133.37 L1158.26 131.47 L1159.02 129.59 L1159.81 127.72 L1160.6 125.87 L1161.42 124.01 L1162.25 122.16 L1163.1 120.3 L1163.97 118.4 L1164.85 116.5 L1165.74 114.6 L1166.65 112.7 L1167.58 110.81 L1168.55 108.93 L1169.55 107.06 L1170.6 105.2 L1171.73 103.28 L1172.9 101.36 L1174.11 99.44 L1175.35 97.53 L1176.62 95.64 L1177.93 93.79 L1179.25 91.97 L1180.6 90.2 L1181.93 88.53 L1183.28 86.89 L1184.65 85.27 L1186.05 83.69 L1187.48 82.14 L1188.93 80.63 L1190.4 79.14 L1191.9 77.7 L1193.39 76.33 L1194.9 74.99 L1196.43 73.7 L1197.99 72.43 L1199.56 71.19 L1201.16 69.97 L1202.77 68.78 L1204.4 67.6 L1206.06 66.43 L1207.74 65.28 L1209.44 64.15 L1211.16 63.04 L1212.89 61.96 L1214.64 60.91 L1216.41 59.89 L1218.2 58.9 L1220.02 57.94 L1221.86 57.01 L1223.73 56.11 L1225.61 55.24 L1227.5 54.4 L1229.4 53.58 L1231.3 52.78 L1233.2 52 L1235.07 51.25 L1236.93 50.52 L1238.8 49.81 L1240.68 49.12 L1242.56 48.46 L1244.46 47.81 L1246.37 47.2 L1248.3 46.6 L1250.3 46.02 L1252.31 45.47 L1254.34 44.94 L1256.39 44.44 L1258.44 43.96 L1260.5 43.49 L1262.55 43.04 L1264.6 42.6 L1266.63 42.17 L1268.67 41.76 L1270.7 41.36 L1272.74 40.98 L1274.78 40.61 L1276.82 40.26 L1278.86 39.92 L1280.9 39.6 L1282.92 39.3 L1284.93 39.02 L1286.94 38.75 L1288.95 38.5 L1290.96 38.26 L1292.99 38.03 L1295.03 37.81 L1297.1 37.6 L1299.3 37.39 L1301.53 37.2 L1303.78 37.02 L1306.05 36.86 L1308.31 36.7 L1310.56 36.55 L1312.8 36.4 L1315 36.25 L1317.07 36.11 L1319.12 35.97 L1321.15 35.84 L1323.17 35.71 L1325.19 35.59 L1327.21 35.47 L1329.22 35.36 L1331.25 35.25 L1333.28 35.15 L1335.31 35.06 L1337.34 34.97 L1339.37 34.88 L1341.4 34.81 L1343.43 34.73 L1345.46 34.66 L1347.5 34.6 L1349.56 34.54 L1351.62 34.49 L1353.68 34.45 L1355.74 34.41 L1357.81 34.37 L1359.87 34.33 L1361.94 34.29 L1364 34.25" fill="none" stroke="#0a28ff" stroke-width="2.35" stroke-dasharray="8.3 8.3" stroke-linejoin="round"/>
<path d="M830.5 15.75 L831.81 15.47 L833.09 16.19 L834.4 15.78 L835.7 15.93 L837.01 15.47 L838.3 15.99 L839.6 15.93 L840.9 15.93 L842.2 15.9 L843.49 16.14 L844.76 16.91 L846.08 16.42 L847.39 16.27 L848.7 16.19 L849.98 16.58 L851.31 16.16 L852.55 16.97 L853.87 16.86 L855.16 16.96 L856.44 17.21 L857.74 17.29 L859.1 16.95 L860.38 17.16 L861.6 17.85 L862.93 17.71 L864.2 18.04 L865.53 17.82 L866.79 18.15 L868.08 18.42 L869.35 18.85 L870.66 18.85 L871.96 18.93 L873.27 18.67 L874.58 18.58 L875.84 19.32 L877.14 19.28 L878.46 19.09 L879.78 18.61 L881.03 19.68 L882.32 20.02 L883.66 19.11 L884.95 19.33 L886.25 19.34 L887.55 19.52 L888.84 19.68 L890.16 18.9 L891.44 19.86 L892.75 19.31 L894.05 19.3 L895.35 19.51 L896.65 19.54 L897.95 19.52 L899.25 19.85 L900.55 19.66 L901.84 19.15 L903.17 20.19 L904.45 19.43 L905.74 19.35 L907.04 19.31 L908.34 19.27 L909.66 19.64 L910.94 19.1 L912.24 19.19 L913.53 18.84 L914.86 19.44 L916.14 19.06 L917.43 18.82 L918.73 18.65 L920.04 18.95 L921.35 19.24 L922.63 18.51 L923.94 19 L925.23 18.92 L926.53 18.36 L927.83 18.97 L929.12 18.99 L930.42 19.17 L931.73 18.62 L933.03 18.71 L934.33 18.72 L935.6 19.29 L936.91 19.23 L938.19 19.48 L939.49 19.52 L940.81 19.32 L942.09 19.65 L943.4 19.54 L944.67 19.95 L946 19.57 L947.31 19.61 L948.61 19.63 L949.87 20.08 L951.21 19.88 L952.51 19.98 L953.74 20.59 L955 20.92 L956.19 21.54 L957.58 21.32 L958.74 22.03 L959.92 22.57 L960.98 23.41 L962.36 23.39 L963.65 23.67 L964.66 24.61 L966.12 24.52 L967.11 25.5 L968.68 25.14 L969.7 26.04 L970.99 26.25 L972.07 27.14 L973.39 27.09 L974.65 27.48 L975.93 27.69 L977.24 27.73 L978.46 28.23 L979.67 28.7 L981.07 28.61 L982.19 29.37 L983.38 29.89 L984.56 30.43 L985.79 30.88 L986.89 31.59 L988.35 31.62 L989.26 32.67 L990.27 32.89 L991.03 31.82 L992.22 31.34 L993.5 31.57 L994.74 32.05 L996.1 31.84 L997.35 32.24 L998.57 32.77 L999.84 33.07 L1001.1 33.38 L1002.43 33.35 L1003.65 33.91 L1004.96 33.97 L1006.29 33.91 L1007.6 33.98 L1008.9 34.07 L1010.25 33.91 L1011.43 34.72 L1012.63 35.37 L1013.95 35.37 L1015.18 35.85 L1016.44 36.22 L1017.82 35.95 L1019.15 35.92 L1020.34 36.57 L1021.61 36.86 L1022.82 37.38 L1024.11 37.56 L1025.38 37.87 L1026.68 38 L1027.87 38.63 L1029.06 39.25 L1030.55 38.59 L1031.7 39.34 L1033.03 39.46 L1034.37 39.51 L1035.34 40.65 L1036.8 40.66 L1037.91 41.56 L1037.92 43.26 L1039 44.06 L1039.97 44.99 L1040.49 46.2 L1041.77 46.36 L1043.05 46.27 L1044.31 46.47 L1045.51 46.87 L1046.62 47.5 L1048.04 47.62 L1048.87 48.76 L1050.11 49.24 L1051.25 49.88 L1052.05 50.99 L1053.21 51.6 L1054.48 52.08 L1055.63 52.76 L1056.57 53.66 L1057.53 54.56 L1057.96 55.99 L1058.98 56.79 L1060.03 57.58 L1060.98 58.48 L1061.82 59.46 L1062.23 60.81 L1063.45 61.49 L1064.12 62.63 L1065.04 63.54 L1065.92 64.5 L1066.88 65.41 L1067.07 66.87 L1068.16 67.69 L1068.67 68.9 L1069.39 69.99 L1070.34 70.92 L1070.47 72.35 L1071.19 73.42 L1072.27 74.32 L1072.77 75.53 L1073.32 76.7 L1073.95 77.84 L1074.65 78.94 L1075.12 80.16 L1075.93 81.21 L1076.07 82.59 L1076.97 83.61 L1077.64 84.74 L1077.65 86.15 L1078.07 87.38 L1078.91 88.44 L1079.17 89.74 L1080.03 90.79 L1080.26 92.1 L1080.59 93.37 L1081.46 94.42 L1081.57 95.78 L1082.68 96.51 L1083.25 95.25 L1084.16 96.14 L1084.1 97.64 L1085.24 98.51 L1085.86 99.66 L1085.78 101.13 L1086.64 102.17 L1087.14 103.36 L1088.01 104.42 L1088.39 105.68 L1088.79 106.91 L1089.41 108.08 L1089.49 109.42 L1089.99 110.63 L1089.76 112.07 L1090.66 113.14 L1091.04 114.39 L1091.56 115.58 L1091.65 116.92 L1091.62 118.29 L1092.8 119.29 L1093.08 120.56 L1092.91 121.97 L1093.54 123.14 L1094.08 124.33 L1094.64 125.52 L1095.31 126.66 L1095.31 128.03 L1095.97 129.18 L1096.33 130.43 L1096.44 131.77 L1096.43 133.14 L1097.78 132.78 L1097.99 131.46 L1098.4 130.22 L1099.11 129.11 L1099.07 130.28 L1099.1 131.6 L1099.42 132.89 L1100.33 133.96 L1100.6 135.26 L1101.47 136.33 L1102.58 137.02 L1103.06 138.14 L1103.87 139.22 L1103.95 140.53 L1104.54 141.72 L1104.56 143.04 L1105.6 144.15 L1105.73 145.45 L1105.82 146.76 L1106.08 148.03 L1106.4 149.29 L1106.5 150.61 L1107.01 151.82 L1107.65 153 L1107.74 154.32 L1107.73 155.66 L1108.36 156.84 L1108.48 158.15 L1108.43 159.5 L1109.2 160.65 L1109.39 161.94 L1109.86 163.17 L1110.09 164.45 L1110.21 165.75 L1110.82 166.95 L1111.15 168.21 L1111.54 169.45 L1111.54 170.78 L1111.66 172.09 L1112.08 173.33 L1112.19 174.64 L1112.58 175.88 L1112.82 177.16 L1113.73 178.27 L1113.5 179.67 L1113.93 180.91 L1114.41 182.12 L1114.36 183.48 L1114.83 184.7 L1114.88 186.03 L1115.53 187.2 L1116.16 188.39 L1116.56 189.64 L1116.34 191.01 L1116.59 192.29 L1116.78 193.57 L1116.69 194.89 L1117.11 196.15 L1117.51 197.41 L1117.71 198.69 L1117.64 200.01 L1117.99 201.28 L1118.09 202.57 L1118.73 203.79 L1118.15 205.19 L1118.52 206.45 L1118.82 207.72 L1119.05 209 L1118.95 210.33 L1119.04 211.63 L1119.72 212.85 L1119.61 214.18 L1120.34 215.38 L1120.16 216.72 L1120.36 218.01 L1121 219.22 L1120.56 220.61 L1120.74 221.89 L1121.03 223.17 L1121.38 224.43 L1121.96 225.66 L1121.8 226.99 L1122.09 228.27 L1122.27 229.55 L1122.12 230.88 L1122.32 232.17 L1122.18 233.49 L1122.62 234.75 L1122.93 236.02 L1123.26 237.29 L1123.84 238.29 L1124.8 239.21 L1124.99 240.5 L1124.9 241.81 L1124.76 243.13 L1125.01 244.41 L1125.79 245.65 L1125.33 247 L1125.52 248.28 L1125.37 249.61 L1125.45 250.91 L1125.57 252.2 L1126.27 253.43 L1126.3 254.74 L1126.19 256.06 L1126.86 257.28 L1126.62 258.63 L1127.21 259.86 L1126.92 261.21 L1127.64 261.96 L1127.39 260.63 L1127.61 259.35 L1127.71 258.05 L1127.84 256.76 L1128.09 255.47 L1128.13 254.17 L1127.53 252.8 L1128.36 251.58 L1128.53 250.29 L1128.97 249.03 L1128.72 247.7 L1128.9 246.39 L1129.92 246.71 L1130.09 248 L1130.16 249.31 L1130.33 250.59 L1130.77 251.85 L1130.7 253.17 L1130.73 254.48 L1131.57 254.96 L1132.28 253.81 L1131.73 252.26 L1132.47 251.13 L1133.19 250.03 L1134.32 249.17 L1134.4 247.74 L1134.78 246.49 L1134.56 245.13 L1135.32 243.94 L1135.86 242.71 L1135.5 241.34 L1135.86 240.08 L1135.85 238.76 L1136.23 237.5 L1136.94 236.33 L1137.4 235.11 L1137.04 233.68 L1137.54 232.47 L1138.05 231.26 L1138.48 230.03 L1138.59 228.71 L1139.26 227.56 L1139.66 226.32 L1139.88 225.02 L1139.55 223.66 L1140.57 222.5 L1140.38 221.15 L1140.84 219.9 L1141.05 218.62 L1140.94 217.3 L1140.71 215.97 L1140.92 214.69 L1141.19 213.41 L1141.67 212.14 L1141.92 210.87 L1141.72 209.54 L1142.03 208.26 L1141.07 206.86 L1141.85 205.63 L1141.98 204.33 L1141.73 202.99 L1142.92 201.84 L1143 200.53 L1142.91 199.21 L1143.38 197.96 L1143.18 196.62 L1143.75 195.39 L1143.53 194.05 L1143.98 192.8 L1144.09 191.5 L1144.35 190.23 L1144.77 188.98 L1145.07 187.71 L1145.07 186.39 L1144.91 185.05 L1145.53 183.84 L1145.71 182.55 L1146.41 181.36 L1145.53 179.87 L1146.29 178.69 L1146.67 177.44 L1147.02 176.19 L1146.93 174.84 L1146.91 173.49 L1147.64 172.33 L1147.53 170.96 L1148.35 169.83 L1148.8 168.61 L1149.06 167.33 L1149.49 166.1 L1150.05 164.9 L1149.94 163.53 L1151.04 162.47 L1151.1 161.14 L1150.81 159.73 L1151.39 158.53 L1151.47 157.21 L1151.31 155.84 L1152.24 154.72 L1152.46 153.44 L1152.6 152.14 L1153.11 150.92 L1153.16 149.59 L1153.74 148.4 L1154.05 147.14 L1154.21 145.83 L1154.23 144.49 L1155.09 143.38 L1155.76 142.22 L1155.48 140.78 L1155.81 139.52 L1156.56 138.39 L1156.88 137.12 L1157.27 135.89 L1157.77 134.68 L1158.62 133.6 L1158.94 132.33 L1158.96 130.96 L1159.56 129.8 L1159.54 128.4 L1160.41 127.34 L1160.86 126.12 L1161.27 124.88 L1162.11 123.83 L1162.16 122.43 L1163.22 121.49 L1164.08 120.46 L1163.83 118.89 L1165.06 118.05 L1165.12 116.62 L1165.59 115.39 L1166.53 114.42 L1167.41 113.43 L1167.87 112.2 L1168.18 110.86 L1169.45 110.11 L1169.99 108.92 L1170.54 107.73 L1171.64 106.89 L1172.24 105.74 L1172.48 104.34 L1173.52 103.47 L1174.17 102.34 L1174.86 101.23 L1175.58 100.15 L1176.25 99.01 L1177.14 98.06 L1178.38 97.4 L1178.9 96.13 L1179.93 95.31 L1180.88 94.42 L1181.69 93.38 L1182.65 92.5 L1183.5 91.49 L1184.68 90.88 L1185.92 90.35 L1186.8 89.36 L1187.97 88.76 L1189.01 87.98 L1189.91 87.01 L1191.08 86.42 L1191.76 85.13 L1193.06 84.72 L1194.22 84.11 L1195.21 83.25 L1196.51 82.85 L1197.55 82.06 L1198.67 81.39 L1199.49 80.31 L1200.62 79.65 L1201.19 78.22 L1202.48 77.77 L1203.59 77.09 L1204.98 76.84 L1206.1 76.18 L1206.85 74.9 L1208.24 74.73 L1209.23 73.83 L1210.37 73.19 L1211.67 72.89 L1212.82 72.29 L1214 71.76 L1215.11 71.04 L1216.13 70.16 L1217.37 69.77 L1218.59 69.29 L1219.91 69.01 L1220.92 68.14 L1222.09 67.56 L1223.47 67.36 L1224.29 66.18 L1225.22 65.22 L1226.81 65.28 L1227.78 64.39 L1229.19 64.13 L1229.71 62.6 L1230.97 62.13 L1231.85 61.11 L1232.76 60.14 L1234.04 59.71 L1235.01 58.82 L1236.28 58.38 L1236.95 57.03 L1238.42 56.91 L1239.29 55.86 L1240.53 55.38 L1241.53 54.53 L1242.97 54.37 L1244.08 53.71 L1245.24 53.13 L1246.23 52.25 L1247.3 51.54 L1248.45 50.93 L1249.71 50.52 L1250.7 49.62 L1251.9 49.13 L1253.16 48.76 L1254.25 48 L1255.51 47.66 L1256.7 47.12 L1258.11 47.24 L1259.14 46.21 L1260.45 46.01 L1261.87 46.26 L1262.85 44.92 L1264.29 45.27 L1265.41 44.42 L1266.78 44.54 L1268.04 44.24 L1269.26 43.71 L1270.54 43.49 L1271.86 43.45 L1273.11 43.1 L1274.29 42.31 L1275.67 42.66 L1276.96 42.5 L1278.24 42.21 L1279.58 42.54 L1280.85 42.16 L1282.11 41.67 L1283.45 42.07 L1284.72 41.76 L1286 41.43 L1287.34 41.92 L1288.6 41.21 L1289.9 41.2 L1291.21 41.3 L1292.52 42.18 L1293.81 41.53 L1295.11 41.47 L1296.41 41.35 L1297.71 41.33 L1299 41.86 L1300.29 41.76 L1301.6 41.61 L1302.89 41.87 L1304.2 41.7 L1305.47 42.21 L1306.78 42.09 L1308.06 42.44 L1309.38 42.26 L1310.68 42.21 L1311.97 42.41 L1313.3 42.11 L1314.56 42.73 L1315.87 42.58 L1317.13 43.16 L1318.47 42.64 L1319.76 42.88 L1321.04 43.21 L1322.35 42.98 L1323.65 43.14 L1324.94 43.39 L1326.24 43.42 L1327.54 43.47 L1328.84 43.42 L1330.14 43.35 L1331.44 43.28 L1332.74 43.26 L1334.05 43.83 L1335.34 43.26 L1336.63 42.93 L1337.96 43.41 L1339.21 42.76 L1340.58 43.62 L1341.84 43.03 L1343.12 42.74 L1344.38 42.36 L1345.72 42.56 L1346.97 42.11 L1348.26 41.94 L1349.53 41.65 L1350.83 41.59 L1352.08 41.08 L1353.36 40.82 L1354.75 41.46 L1355.95 40.6 L1357.28 40.77 L1358.54 40.35 L1359.93 40.94 L1361.19 40.54 L1362.43 40.03 L1363.78 40.34 L1364 39.9" fill="none" stroke="#ff0000" stroke-width="2.45" stroke-linejoin="round"/>
<rect x="830.35" y="13.3" width="533.9" height="443.4" fill="none" stroke="#151515" stroke-width="1.3"/>
<rect x="846.65" y="362.6" width="197" height="80.4" fill="#fff" stroke="#151515" stroke-width="1.2"/>
<line x1="856.15" y1="385.6" x2="897.65" y2="385.6" stroke="#0a28ff" stroke-width="2.2" stroke-dasharray="8.3 8.3"/>
<line x1="856.15" y1="420.15" x2="902.95" y2="420.15" stroke="#ff0000" stroke-width="2.2"/>
<text x="909.65" y="392.5" font-size="27.5" textLength="119.5" lengthAdjust="spacingAndGlyphs">calculated</text>
<text x="912.75" y="427.6" font-size="27.5" textLength="113" lengthAdjust="spacingAndGlyphs">measured</text>
<text x="819.95" y="23.4" font-size="31" text-anchor="end">0</text>
<text y="133.05" font-size="31"><tspan x="766.85" dy="2.1" textLength="22.3" lengthAdjust="spacingAndGlyphs">−</tspan><tspan x="788.95" dy="-2.1">10</tspan></text>
<text y="243.9" font-size="31"><tspan x="766.85" dy="2.1" textLength="22.3" lengthAdjust="spacingAndGlyphs">−</tspan><tspan x="788.95" dy="-2.1">20</tspan></text>
<text y="354.75" font-size="31"><tspan x="766.85" dy="2.1" textLength="22.3" lengthAdjust="spacingAndGlyphs">−</tspan><tspan x="788.95" dy="-2.1">30</tspan></text>
<text y="465.6" font-size="31"><tspan x="766.85" dy="2.1" textLength="22.3" lengthAdjust="spacingAndGlyphs">−</tspan><tspan x="788.95" dy="-2.1">40</tspan></text>
<text x="830.35" y="486.9" font-size="31" text-anchor="middle">700</text>
<text x="963.83" y="486.9" font-size="31" text-anchor="middle">800</text>
<text x="1097.3" y="486.9" font-size="31" text-anchor="middle">900</text>
<text x="1230.78" y="486.9" font-size="31" text-anchor="middle">1,000</text>
<text x="1364.25" y="486.9" font-size="31" text-anchor="middle">1,100</text>
<text x="1096.9" y="535.7" font-size="31" text-anchor="middle" textLength="228.5" lengthAdjust="spacingAndGlyphs">Frequency (MHz)</text>
<text transform="translate(738.45 287.5) rotate(-90)" font-size="31"><tspan x="0" font-style="italic" textLength="19.5" lengthAdjust="spacingAndGlyphs">S</tspan><tspan x="18.4" dy="4.5" font-size="20">11</tspan><tspan x="53.7" dy="-1.9" font-size="36.5" textLength="9.43" lengthAdjust="spacingAndGlyphs">[</tspan><tspan x="63.13" dy="-2.6" textLength="33.07" lengthAdjust="spacingAndGlyphs">dB</tspan><tspan x="96.2" dy="2.6" font-size="36.5" textLength="9.43" lengthAdjust="spacingAndGlyphs">]</tspan></text>
<text x="1100.5" y="578.4" font-size="30" text-anchor="middle">(b)</text>
</g>
<g id="panel-c">
<line x1="410.65" y1="617.2" x2="410.65" y2="1060.6" stroke="#bcbcbc" stroke-width="1.25"/>
<line x1="410.65" y1="617.2" x2="410.65" y2="624.8" stroke="#8a8a8a" stroke-width="1.1"/>
<line x1="410.65" y1="1060.6" x2="410.65" y2="1053" stroke="#8a8a8a" stroke-width="1.1"/>
<line x1="417.4" y1="617.2" x2="417.4" y2="1060.6" stroke="#bcbcbc" stroke-width="1.25"/>
<line x1="417.4" y1="617.2" x2="417.4" y2="624.8" stroke="#8a8a8a" stroke-width="1.1"/>
<line x1="417.4" y1="1060.6" x2="417.4" y2="1053" stroke="#8a8a8a" stroke-width="1.1"/>
<path d="M250.68 617.2v11.8 M250.68 1060.6v-11.8" stroke="#8c8c8c" stroke-width="0.75" fill="none"/>
<path d="M117.2 728.05h11.8 M651.1 728.05h-11.8" stroke="#8c8c8c" stroke-width="0.75" fill="none"/>
<path d="M384.15 617.2v11.8 M384.15 1060.6v-11.8" stroke="#8c8c8c" stroke-width="0.75" fill="none"/>
<path d="M117.2 838.9h11.8 M651.1 838.9h-11.8" stroke="#8c8c8c" stroke-width="0.75" fill="none"/>
<path d="M517.62 617.2v11.8 M517.62 1060.6v-11.8" stroke="#8c8c8c" stroke-width="0.75" fill="none"/>
<path d="M117.2 949.75h11.8 M651.1 949.75h-11.8" stroke="#8c8c8c" stroke-width="0.75" fill="none"/>
<g><rect x="169.07" y="913.2" width="4.05" height="28.6" fill="#bf7220"/><rect x="177.12" y="913.2" width="4.05" height="28.6" fill="#bf7220"/><rect x="185.12" y="913.2" width="4.05" height="28.6" fill="#bf7220"/><rect x="193.18" y="913.2" width="4.05" height="28.6" fill="#bf7220"/><rect x="201.18" y="913.2" width="4.05" height="28.6" fill="#bf7220"/><rect x="209.23" y="913.2" width="4.05" height="28.6" fill="#bf7220"/><rect x="217.12" y="913.2" width="4.05" height="28.6" fill="#bf7220"/><rect x="169.07" y="913.2" width="12.1" height="5.6" fill="#bf7220"/><rect x="185.12" y="913.2" width="12.1" height="5.6" fill="#bf7220"/><rect x="201.18" y="913.2" width="12.1" height="5.6" fill="#bf7220"/><rect x="217.12" y="913.2" width="11.98" height="5.6" fill="#bf7220"/><rect x="177.12" y="936.8" width="12.05" height="5" fill="#bf7220"/><rect x="193.18" y="936.8" width="12.05" height="5" fill="#bf7220"/><rect x="209.23" y="936.8" width="11.95" height="5" fill="#bf7220"/><rect x="327.98" y="913.2" width="4.05" height="28.6" fill="#bf7220"/><rect x="319.93" y="913.2" width="4.05" height="28.6" fill="#bf7220"/><rect x="311.93" y="913.2" width="4.05" height="28.6" fill="#bf7220"/><rect x="303.88" y="913.2" width="4.05" height="28.6" fill="#bf7220"/><rect x="295.88" y="913.2" width="4.05" height="28.6" fill="#bf7220"/><rect x="287.82" y="913.2" width="4.05" height="28.6" fill="#bf7220"/><rect x="279.93" y="913.2" width="4.05" height="28.6" fill="#bf7220"/><rect x="319.93" y="913.2" width="12.1" height="5.6" fill="#bf7220"/><rect x="303.88" y="913.2" width="12.1" height="5.6" fill="#bf7220"/><rect x="287.82" y="913.2" width="12.1" height="5.6" fill="#bf7220"/><rect x="272" y="913.2" width="11.98" height="5.6" fill="#bf7220"/><rect x="311.93" y="936.8" width="12.05" height="5" fill="#bf7220"/><rect x="295.88" y="936.8" width="12.05" height="5" fill="#bf7220"/><rect x="279.93" y="936.8" width="11.95" height="5" fill="#bf7220"/><rect x="229.1" y="913.2" width="18.75" height="5.3" fill="#bf7220"/><rect x="229.1" y="918.2" width="4.05" height="13.1" fill="#bf7220"/><rect x="253.25" y="913.2" width="18.75" height="5.3" fill="#bf7220"/><rect x="267.95" y="918.2" width="4.05" height="13.1" fill="#bf7220"/><rect x="229.1" y="926.1" width="42.9" height="5.2" fill="#bf7220"/></g>
<path d="M117.5 620.4 L119.04 620.57 L120.56 620.74 L122.06 620.91 L123.57 621.09 L125.1 621.26 L126.67 621.42 L128.3 621.57 L130 621.7 L132.27 621.85 L134.67 621.97 L137.15 622.07 L139.71 622.16 L142.29 622.25 L144.89 622.33 L147.47 622.41 L150 622.5 L152.48 622.59 L154.95 622.68 L157.4 622.77 L159.86 622.85 L162.34 622.93 L164.84 623.02 L167.39 623.11 L170 623.2 L173.03 623.3 L176.17 623.4 L179.39 623.5 L182.63 623.6 L185.86 623.7 L189.03 623.82 L192.09 623.95 L195 624.1 L197.27 624.24 L199.47 624.39 L201.6 624.55 L203.68 624.72 L205.73 624.9 L207.78 625.07 L209.83 625.24 L211.9 625.4 L213.94 625.55 L215.97 625.69 L218 625.84 L220.02 625.98 L222.04 626.12 L224.06 626.27 L226.08 626.43 L228.1 626.6 L230.14 626.78 L232.17 626.97 L234.21 627.16 L236.25 627.37 L238.29 627.57 L240.33 627.79 L242.37 628.02 L244.4 628.25 L246.43 628.49 L248.46 628.74 L250.48 628.99 L252.51 629.25 L254.53 629.52 L256.55 629.8 L258.58 630.1 L260.6 630.4 L262.64 630.72 L264.68 631.05 L266.73 631.39 L268.77 631.73 L270.82 632.1 L272.85 632.47 L274.88 632.85 L276.9 633.25 L278.89 633.66 L280.9 634.08 L282.9 634.51 L284.89 634.96 L286.87 635.41 L288.82 635.87 L290.73 636.33 L292.6 636.8 L294.22 637.22 L295.81 637.63 L297.36 638.05 L298.89 638.47 L300.41 638.9 L301.93 639.35 L303.45 639.81 L305 640.3 L306.62 640.82 L308.26 641.35 L309.9 641.9 L311.55 642.47 L313.19 643.05 L314.81 643.67 L316.42 644.32 L318 645 L319.55 645.72 L321.1 646.47 L322.63 647.25 L324.15 648.06 L325.65 648.89 L327.13 649.75 L328.58 650.62 L330 651.5 L331.32 652.35 L332.61 653.21 L333.88 654.08 L335.12 654.97 L336.35 655.88 L337.57 656.82 L338.79 657.79 L340 658.8 L341.29 659.92 L342.59 661.1 L343.89 662.33 L345.17 663.58 L346.43 664.84 L347.66 666.09 L348.85 667.31 L350 668.5 L350.95 669.5 L351.87 670.49 L352.77 671.47 L353.64 672.44 L354.5 673.4 L355.34 674.34 L356.17 675.28 L357 676.2 L357.74 677 L358.47 677.75 L359.18 678.47 L359.89 679.2 L360.59 679.94 L361.29 680.73 L361.99 681.57 L362.7 682.5 L363.65 683.89 L364.61 685.4 L365.57 687.03 L366.53 688.73 L367.48 690.47 L368.42 692.24 L369.34 693.99 L370.25 695.7 L371.15 697.39 L372.04 699.09 L372.93 700.8 L373.8 702.51 L374.66 704.24 L375.49 705.98 L376.31 707.73 L377.1 709.5 L377.88 711.33 L378.63 713.18 L379.36 715.05 L380.07 716.93 L380.77 718.82 L381.45 720.72 L382.13 722.61 L382.8 724.5 L383.46 726.38 L384.11 728.27 L384.75 730.16 L385.38 732.06 L386 733.95 L386.61 735.84 L387.21 737.73 L387.8 739.6 L388.37 741.4 L388.94 743.18 L389.5 744.94 L390.05 746.71 L390.58 748.49 L391.11 750.29 L391.61 752.12 L392.1 754 L392.61 756.12 L393.08 758.29 L393.53 760.5 L393.97 762.74 L394.39 765 L394.82 767.27 L395.25 769.54 L395.7 771.8 L396.18 774.11 L396.67 776.4 L397.16 778.69 L397.66 780.99 L398.15 783.32 L398.62 785.69 L399.07 788.11 L399.5 790.6 L399.96 793.57 L400.38 796.64 L400.78 799.8 L401.16 803 L401.53 806.22 L401.89 809.43 L402.24 812.6 L402.6 815.7 L402.94 818.57 L403.27 821.42 L403.59 824.25 L403.91 827.06 L404.22 829.86 L404.52 832.65 L404.82 835.42 L405.1 838.2 L405.37 840.9 L405.62 843.6 L405.87 846.29 L406.12 848.97 L406.35 851.63 L406.57 854.28 L406.79 856.9 L407 859.5 L407.19 861.93 L407.36 864.37 L407.53 866.8 L407.7 869.21 L407.85 871.58 L408.01 873.9 L408.15 876.14 L408.3 878.3 L408.42 879.99 L408.53 881.64 L408.64 883.24 L408.75 884.81 L408.86 886.34 L408.96 887.85 L409.06 889.33 L409.15 890.8 L409.23 892.03 L409.3 893.19 L409.37 894.29 L409.43 895.39 L409.5 896.52 L409.56 897.73 L409.63 899.04 L409.7 900.5 L409.83 903.44 L409.96 906.78 L410.1 910.42 L410.24 914.3 L410.38 918.34 L410.52 922.45 L410.66 926.56 L410.8 930.6 L410.95 935.1 L411.1 939.71 L411.25 944.39 L411.4 949.14 L411.54 953.92 L411.69 958.7 L411.85 963.47 L412 968.2 L412.16 972.93 L412.31 977.69 L412.47 982.47 L412.63 987.24 L412.8 991.98 L412.96 996.67 L413.13 1001.28 L413.3 1005.8 L413.46 1009.79 L413.62 1013.69 L413.78 1017.54 L413.94 1021.34 L414.11 1025.12 L414.27 1028.9 L414.44 1032.68 L414.6 1036.5 L414.68 1035.05 L414.75 1033.66 L414.83 1032.29 L414.91 1030.9 L414.98 1029.48 L415.06 1027.97 L415.13 1026.36 L415.2 1024.6 L415.31 1021.39 L415.41 1017.81 L415.51 1013.94 L415.6 1009.86 L415.69 1005.66 L415.79 1001.44 L415.89 997.27 L416 993.25 L416.11 989.33 L416.23 985.41 L416.35 981.49 L416.47 977.57 L416.59 973.65 L416.72 969.74 L416.86 965.82 L417 961.9 L417.15 957.97 L417.3 954.03 L417.46 950.07 L417.63 946.12 L417.8 942.19 L417.97 938.29 L418.13 934.42 L418.3 930.6 L418.46 926.97 L418.61 923.24 L418.77 919.5 L418.93 915.8 L419.09 912.23 L419.25 908.86 L419.4 905.76 L419.55 903 L419.63 901.59 L419.71 900.34 L419.79 899.2 L419.87 898.13 L419.95 897.06 L420.03 895.95 L420.11 894.75 L420.2 893.4 L420.33 891.14 L420.47 888.68 L420.61 886.07 L420.75 883.33 L420.9 880.52 L421.06 877.66 L421.22 874.81 L421.4 872 L421.61 868.94 L421.82 865.8 L422.05 862.61 L422.29 859.4 L422.54 856.2 L422.79 853.04 L423.04 849.97 L423.3 847 L423.52 844.53 L423.75 842.14 L423.98 839.8 L424.21 837.5 L424.45 835.22 L424.69 832.92 L424.94 830.59 L425.2 828.2 L425.48 825.6 L425.78 822.97 L426.08 820.31 L426.38 817.63 L426.7 814.94 L427.02 812.25 L427.36 809.57 L427.7 806.9 L428.05 804.2 L428.41 801.46 L428.78 798.7 L429.15 795.95 L429.54 793.24 L429.95 790.59 L430.36 788.04 L430.8 785.6 L431.17 783.73 L431.54 781.94 L431.93 780.22 L432.33 778.53 L432.73 776.87 L433.15 775.21 L433.57 773.52 L434 771.8 L434.46 769.98 L434.93 768.17 L435.41 766.36 L435.9 764.54 L436.4 762.7 L436.9 760.83 L437.4 758.94 L437.9 757 L438.45 754.76 L438.98 752.44 L439.52 750.08 L440.06 747.69 L440.61 745.29 L441.2 742.91 L441.82 740.57 L442.5 738.3 L443.19 736.19 L443.92 734.12 L444.68 732.07 L445.46 730.04 L446.28 728.03 L447.1 726.03 L447.95 724.02 L448.8 722 L449.67 719.94 L450.55 717.87 L451.45 715.79 L452.37 713.72 L453.31 711.66 L454.28 709.64 L455.27 707.65 L456.3 705.7 L457.31 703.88 L458.35 702.08 L459.41 700.3 L460.5 698.56 L461.61 696.84 L462.74 695.16 L463.91 693.51 L465.1 691.9 L466.27 690.4 L467.46 688.93 L468.68 687.51 L469.93 686.11 L471.19 684.73 L472.48 683.37 L473.78 682.03 L475.1 680.7 L476.44 679.37 L477.79 678.07 L479.17 676.78 L480.56 675.51 L481.98 674.25 L483.42 673.02 L484.89 671.8 L486.4 670.6 L488.02 669.35 L489.68 668.12 L491.38 666.9 L493.1 665.7 L494.85 664.53 L496.62 663.39 L498.41 662.27 L500.2 661.2 L502.04 660.15 L503.95 659.13 L505.89 658.14 L507.84 657.18 L509.78 656.25 L511.67 655.36 L513.48 654.51 L515.2 653.7 L516.45 653.1 L517.61 652.54 L518.73 652 L519.83 651.49 L520.92 650.99 L522.05 650.49 L523.23 650 L524.5 649.5 L526.19 648.87 L527.96 648.25 L529.81 647.62 L531.71 647.01 L533.65 646.41 L535.6 645.83 L537.56 645.28 L539.5 644.75 L541.49 644.24 L543.5 643.75 L545.53 643.29 L547.57 642.85 L549.61 642.43 L551.66 642.02 L553.71 641.63 L555.75 641.25 L557.78 640.89 L559.81 640.54 L561.84 640.21 L563.87 639.89 L565.9 639.59 L567.93 639.3 L569.97 639.02 L572 638.75 L574.03 638.49 L576.06 638.25 L578.09 638.02 L580.12 637.8 L582.15 637.59 L584.18 637.39 L586.22 637.19 L588.25 637 L590.28 636.82 L592.31 636.65 L594.34 636.48 L596.37 636.33 L598.4 636.18 L600.44 636.03 L602.47 635.89 L604.5 635.75 L606.53 635.61 L608.56 635.47 L610.59 635.33 L612.62 635.2 L614.66 635.08 L616.69 634.96 L618.72 634.85 L620.75 634.75 L622.79 634.66 L624.84 634.58 L626.9 634.52 L628.95 634.45 L630.99 634.4 L633.02 634.35 L635.03 634.3 L637 634.25 L638.8 634.21 L640.57 634.17 L642.33 634.14 L644.07 634.11 L645.8 634.08 L647.52 634.06 L649.26 634.03 L651 634" fill="none" stroke="#0a28ff" stroke-width="2.35" stroke-dasharray="8.3 8.3" stroke-linejoin="round"/>
<path d="M117.5 620 L118.81 619.92 L120.09 620.22 L121.39 620.27 L122.69 620.42 L123.99 620.32 L125.3 620.17 L126.61 620.15 L127.87 620.79 L129.22 620.02 L130.49 620.56 L131.8 620.53 L133.07 620.91 L134.38 620.86 L135.67 620.99 L136.94 621.42 L138.27 621.19 L139.58 621.16 L140.81 621.84 L142.11 621.95 L143.39 622.18 L144.7 622.16 L146.03 621.99 L147.26 622.64 L148.6 622.4 L149.87 622.71 L151.2 622.54 L152.48 622.83 L153.73 623.28 L155.01 623.51 L156.32 623.52 L157.57 624.01 L158.9 623.85 L160.26 623.51 L161.36 623.63 L161.91 622.26 L163.52 622.13 L164.8 622.53 L166.08 622.87 L167.38 622.95 L168.69 622.83 L169.98 623.07 L171.3 622.72 L172.55 623.75 L173.88 623.13 L175.18 623.22 L176.48 623.24 L177.76 623.64 L179.07 623.43 L180.37 623.46 L181.67 623.35 L182.97 623.36 L184.27 623.53 L185.57 623.48 L186.87 623.52 L188.17 623.34 L189.48 623.75 L190.78 623.6 L192.08 623.86 L193.38 623.55 L194.67 623.41 L195.97 623.3 L197.27 623.55 L198.57 623.29 L199.87 623.01 L201.17 623.05 L202.47 622.7 L203.77 623.62 L205.06 623.66 L206.38 622.95 L207.68 623.08 L208.97 623.16 L210.27 623.24 L211.56 623.58 L212.86 623.6 L214.16 623.67 L215.45 623.81 L216.75 623.87 L218.04 624 L219.39 623.55 L220.66 623.91 L221.92 624.34 L223.28 623.84 L224.49 624.81 L225.78 624.92 L227.11 624.78 L228.39 624.98 L229.7 624.97 L230.94 625.55 L232.24 625.57 L233.55 625.63 L234.91 625.4 L236.07 626.29 L237.44 626.02 L238.64 626.65 L239.96 626.69 L241.19 627.16 L242.35 627.81 L243.83 627.35 L244.98 628.06 L246.29 628.24 L247.51 628.73 L248.62 629.46 L249.93 629.69 L251.17 630.11 L252.32 630.71 L253.63 631.11 L254.68 630.18 L255.93 630.42 L256.9 631.34 L258.28 631.55 L259.24 632.5 L260.3 633.28 L261.58 633.63 L262.82 634 L264.22 633.92 L265.19 635.13 L266.51 635.26 L267.61 634.79 L268.39 633.74 L268.41 632.25 L269.76 632.78 L271.1 632.95 L272.09 633.93 L273.38 634.22 L274.46 635 L275.8 635.18 L277 635.67 L278.24 636.1 L279.34 636.82 L280.34 637.77 L281.93 637.39 L283.06 638 L284.14 638.78 L285.41 639.07 L286.66 639.27 L287.8 640.26 L289.17 639.86 L290.42 640.52 L291.76 640.07 L293.1 639.77 L294.32 640.66 L295.58 641.03 L296.89 641.02 L298.16 641.34 L299.52 640.96 L300.83 641.03 L302.04 641.71 L303.37 641.66 L304.6 642.17 L305.94 642.07 L307.2 642.38 L308.45 642.79 L309.74 642.95 L311.01 643.23 L312.31 643.38 L313.43 644.2 L314.78 644.21 L316.07 644.48 L317.22 645.12 L318.55 645.3 L319.59 646.17 L320.64 646.98 L322.01 647.14 L323.29 647.47 L324.49 648.01 L325.51 648.86 L326.76 649.29 L327.91 649.91 L328.84 650.88 L330.05 651.41 L330.98 652.37 L332.1 653.02 L333.24 653.66 L334.02 654.79 L335.09 655.53 L336.32 656.07 L337.43 656.76 L338.13 657.94 L339.06 658.86 L340.34 659.38 L341.3 660.25 L341.88 661.52 L342.78 662.46 L344.05 663.02 L345.03 663.88 L345.77 664.97 L346.82 665.77 L347.59 666.83 L348.34 667.9 L349.21 668.87 L350.04 669.87 L351.32 670.48 L352.35 671.32 L352.5 672.88 L353.51 673.73 L354.25 674.8 L355.24 675.68 L355.74 676.94 L356.64 677.88 L357.71 678.71 L358.13 680.01 L359.55 680.59 L360.31 681.65 L360.53 683.08 L361.12 684.25 L362.17 685.12 L362.66 686.35 L363.29 687.48 L364 688.57 L364.4 689.83 L365.08 690.94 L365.86 692 L366.68 693.04 L367.02 694.32 L367.61 695.48 L368.4 696.56 L368.93 697.75 L369.16 699.06 L369.79 700.21 L370.18 701.46 L370.37 702.78 L370.73 704.03 L371.41 705.16 L371.92 706.36 L372.49 707.54 L372.69 708.85 L373.28 710.01 L373.87 711.18 L374.51 712.34 L374.45 713.74 L375.4 714.79 L375.21 716.22 L375.73 717.42 L376.15 718.65 L376.7 719.84 L376.83 721.16 L377.63 722.27 L377.94 723.53 L378.65 724.67 L378.84 725.98 L379.36 727.17 L379.88 728.37 L379.59 729.83 L380.13 731.02 L380.8 732.17 L381.59 733.28 L381.48 734.69 L381.88 735.93 L382.36 737.13 L383.16 738.23 L382.99 739.67 L383.23 740.96 L384.15 742.02 L384.83 743.17 L384.87 744.52 L385.62 745.64 L385.68 746.99 L385.92 748.27 L386.52 749.46 L386.36 750.84 L386.92 752.04 L387.16 753.32 L387.4 754.6 L387.78 755.85 L387.92 757.17 L388.77 758.27 L388.82 759.62 L389.43 760.79 L389.88 762.01 L390.33 763.23 L390.57 764.52 L391.19 765.69 L391.82 766.84 L391.66 768.26 L392.15 769.47 L392.71 770.66 L392.84 771.98 L393.91 773 L393.61 774.45 L394.55 775.54 L394.67 776.87 L394.63 778.21 L394.8 779.5 L395.22 780.73 L395.55 782 L395.57 783.31 L395.42 784.65 L396.31 785.83 L396.25 787.15 L396.77 788.38 L396.63 789.73 L396.9 791.01 L397.19 792.28 L397.61 793.51 L398.23 794.69 L398.54 795.96 L398.87 797.21 L398.93 798.55 L399.45 799.75 L399.9 800.98 L400.07 802.28 L400.88 803.39 L401.3 804.62 L401.43 805.94 L401.21 807.37 L402.01 808.48 L402.49 809.7 L402.52 811.03 L403.62 812.1 L403.41 813.49 L403.56 814.79 L403.53 816.11 L403.85 817.37 L404.22 818.63 L404.47 819.91 L404.66 821.19 L404.95 822.47 L404.97 823.78 L405.08 825.07 L405.21 826.37 L405.19 827.68 L404.99 829.02 L405.59 830.25 L405.64 831.55 L405.8 832.84 L406.17 834.11 L406.55 835.37 L406.61 836.67 L406.27 838.03 L406.8 839.27 L407.59 840.48 L407.18 841.84 L407.26 843.14 L407.57 844.41 L407.96 845.66 L408.09 846.96 L407.79 848.32 L407.95 849.61 L408.31 850.87 L408.58 852.14 L408.88 853.41 L408.73 854.74 L409.08 856.01 L408.85 857.33 L409.62 858.57 L409.51 859.88 L409.66 861.17 L409.95 862.45 L409.96 863.76 L410.27 865.03 L410.11 866.36 L410.53 867.62 L410.73 868.9 L410.98 870.18 L411.35 871.44 L411 872.8 L411.32 874.07 L411.35 875.37 L411.84 876.62 L411.67 877.95 L412.02 879.23 L411.71 880.56 L411.8 881.86 L411.99 883.15 L412.16 884.44 L412.55 885.7 L412.28 887.04 L412.25 888.38 L412.83 889.6 L413.24 890.84 L413.53 892.12 L414.08 893.3 L414.45 894.55 L415.05 895.71 L415.52 894.88 L416.62 893.92 L416.52 892.48 L417.21 891.32 L417.01 889.94 L417.72 888.73 L417.68 887.4 L417.76 886.1 L417.85 884.8 L417.98 883.51 L417.87 882.2 L418.25 880.92 L418.1 879.61 L418.11 878.3 L418.26 877.01 L418.66 875.74 L418.53 874.42 L418.28 873.1 L418.45 871.81 L418.85 870.54 L418.54 869.21 L419.08 867.95 L418.95 866.63 L418.98 865.33 L419.21 864.05 L419.41 862.76 L419.05 861.42 L419.19 860.13 L419.64 858.87 L419.81 857.58 L420.18 856.31 L420.35 855.03 L420.13 853.68 L419.94 852.33 L420.6 851.12 L421.19 849.9 L421.49 848.63 L421.05 847.25 L421.68 846.02 L421.54 844.7 L421.69 843.41 L421.47 842.08 L422.02 840.83 L422.36 839.55 L422.46 838.26 L422.35 836.94 L422.51 835.65 L422.82 834.38 L423.13 833.11 L422.78 831.75 L423.2 830.5 L423.64 829.24 L423.49 827.91 L423.72 826.63 L423.87 825.34 L423.95 824.04 L423.91 822.72 L424.68 821.51 L424.49 820.18 L425.19 818.96 L425.26 817.66 L424.88 816.29 L424.76 814.96 L425.74 813.79 L425.29 812.41 L426.62 811.29 L425.78 809.85 L426.02 808.57 L426.49 807.33 L426.5 806.02 L426.67 804.73 L427.39 803.52 L427.67 802.24 L427.56 800.91 L427.21 799.55 L427.76 798.32 L427.93 797.03 L427.96 795.72 L428.44 794.47 L428.3 793.14 L428.06 791.81 L428.14 790.51 L428.85 789.28 L429.29 788.01 L428.72 786.65 L428.75 785.35 L429.64 784.14 L429.39 782.8 L429.56 781.51 L430.01 780.26 L429.82 778.93 L429.98 777.64 L429.66 776.26 L430.7 775.12 L430.55 773.78 L431.42 772.67 L431.48 771.33 L431.4 769.92 L432.6 769 L432.71 767.64 L433.59 766.58 L433.95 765.33 L434.09 764 L434.21 762.68 L434.98 761.55 L435.27 760.28 L435.3 758.94 L435.79 757.72 L436.28 756.51 L436.43 755.21 L436.74 753.94 L437.19 752.71 L437.37 751.42 L437.2 750.05 L437.97 748.89 L438.51 747.68 L438.81 746.41 L438.6 745.04 L439.27 743.85 L440.21 742.72 L439.68 741.28 L439.72 739.96 L439.94 738.67 L440.63 737.5 L440.68 736.17 L440.98 734.91 L441.69 733.75 L442.11 732.52 L442.51 731.29 L442.94 730.06 L442.88 728.67 L443.35 727.45 L444.29 726.41 L444.59 725.14 L445 723.91 L445.12 722.55 L445.72 721.38 L446.82 720.45 L446.68 718.95 L447.83 718.07 L448.28 716.85 L448.8 715.65 L449.32 714.45 L450.06 713.38 L450.86 712.33 L451.81 711.39 L452.02 710 L452.48 708.76 L453.62 707.94 L454.29 706.83 L454.74 705.57 L455.37 704.43 L455.95 703.25 L456.88 702.31 L457.83 701.39 L458.56 700.31 L459.68 699.53 L460.14 698.25 L460.83 697.14 L461.88 696.32 L462.82 695.41 L463.47 694.27 L464.27 693.23 L465.38 692.5 L465.94 691.24 L467.08 690.54 L468.04 689.66 L468.86 688.64 L470.13 688.12 L470.54 686.62 L472.02 686.37 L472.61 685.01 L473.87 684.53 L474.65 683.38 L475.71 682.63 L476.84 681.96 L478.26 681.75 L479.12 680.69 L480.07 679.75 L481.31 679.28 L482.61 678.93 L483.52 677.91 L484.95 677.83 L485.97 676.97 L487.08 676.27 L488.33 675.87 L489.58 675.49 L490.66 674.73 L491.94 674.4 L492.95 673.48 L494.21 673.11 L495.32 672.4 L496.45 671.74 L497.98 672.07 L498.93 670.92 L500.06 670.23 L501.37 670.02 L502.76 670 L503.8 669.09 L505.09 668.82 L506.27 668.27 L507.48 667.79 L508.7 667.33 L509.85 666.7 L511.05 666.17 L511.95 665.15 L513.05 664.45 L514.44 664.22 L515.49 663.44 L516.42 662.49 L517.91 662.38 L518.43 660.83 L519.68 660.35 L520.83 659.74 L521.74 658.75 L522.68 657.8 L523.97 657.41 L525.24 656.98 L526.25 656.14 L527.41 655.55 L528.37 654.64 L529.43 653.88 L530.75 653.53 L531.68 652.56 L532.99 652.22 L534.1 651.57 L535.18 650.85 L536.27 650.11 L537.59 649.91 L538.61 648.99 L539.86 648.61 L540.84 647.5 L542.17 647.36 L543.48 647.13 L544.8 646.99 L546.05 646.64 L547.18 645.88 L548.46 645.64 L549.66 645.11 L551.01 645.09 L552.27 644.77 L553.44 644.13 L554.79 644.16 L555.99 643.6 L557.25 643.26 L558.51 642.92 L559.81 642.77 L561.19 643.09 L562.41 642.57 L563.67 642.22 L564.96 642.06 L566.23 641.75 L567.48 641.27 L568.88 642.02 L570.18 641.95 L571.4 641.11 L572.69 640.87 L574.03 641.37 L575.3 641.06 L576.6 640.9 L577.9 641.07 L579.19 640.49 L580.5 641.11 L581.8 640.74 L583.1 640.61 L584.41 640.57 L585.71 640.54 L587 641.01 L588.29 641.09 L589.59 641.22 L590.88 641.37 L592.13 642.06 L593.53 640.93 L594.75 641.77 L596.02 642.23 L597.37 641.68 L598.68 641.71 L599.96 641.99 L601.28 641.86 L602.57 642.08 L603.82 642.52 L605.12 642.64 L606.39 642.94 L607.68 643.07 L608.98 643.21 L610.25 643.59 L611.59 643.16 L612.84 643.87 L614.16 643.65 L615.46 643.49 L616.77 643.44 L618.04 644.25 L619.35 643.8 L620.65 643.77 L621.95 643.59 L623.27 644.21 L624.54 643.58 L625.85 643.61 L627.12 643.21 L628.46 643.61 L629.74 643.35 L631.04 643.28 L632.33 643.06 L633.56 642.53 L634.78 641.89 L636.23 642.78 L637.49 642.39 L638.73 641.93 L640.05 641.96 L641.31 641.6 L642.66 641.78 L643.87 641.12 L645.17 641.03 L646.53 641.3 L647.77 640.83 L648.96 640.05 L650.34 640.43 L651 640" fill="none" stroke="#ff0000" stroke-width="2.45" stroke-linejoin="round"/>
<rect x="117.2" y="617.2" width="533.9" height="443.4" fill="none" stroke="#151515" stroke-width="1.3"/>
<rect x="133.5" y="966.5" width="197" height="80.4" fill="#fff" stroke="#151515" stroke-width="1.2"/>
<line x1="143" y1="989.5" x2="184.5" y2="989.5" stroke="#0a28ff" stroke-width="2.2" stroke-dasharray="8.3 8.3"/>
<line x1="143" y1="1024.05" x2="189.8" y2="1024.05" stroke="#ff0000" stroke-width="2.2"/>
<text x="196.5" y="996.4" font-size="27.5" textLength="119.5" lengthAdjust="spacingAndGlyphs">calculated</text>
<text x="199.6" y="1031.5" font-size="27.5" textLength="113" lengthAdjust="spacingAndGlyphs">measured</text>
<text x="106.8" y="627.3" font-size="31" text-anchor="end">0</text>
<text y="736.95" font-size="31"><tspan x="53.7" dy="2.1" textLength="22.3" lengthAdjust="spacingAndGlyphs">−</tspan><tspan x="75.8" dy="-2.1">10</tspan></text>
<text y="847.8" font-size="31"><tspan x="53.7" dy="2.1" textLength="22.3" lengthAdjust="spacingAndGlyphs">−</tspan><tspan x="75.8" dy="-2.1">20</tspan></text>
<text y="958.65" font-size="31"><tspan x="53.7" dy="2.1" textLength="22.3" lengthAdjust="spacingAndGlyphs">−</tspan><tspan x="75.8" dy="-2.1">30</tspan></text>
<text y="1069.5" font-size="31"><tspan x="53.7" dy="2.1" textLength="22.3" lengthAdjust="spacingAndGlyphs">−</tspan><tspan x="75.8" dy="-2.1">40</tspan></text>
<text x="117.2" y="1090.8" font-size="31" text-anchor="middle">700</text>
<text x="250.68" y="1090.8" font-size="31" text-anchor="middle">800</text>
<text x="384.15" y="1090.8" font-size="31" text-anchor="middle">900</text>
<text x="517.62" y="1090.8" font-size="31" text-anchor="middle">1,000</text>
<text x="651.1" y="1090.8" font-size="31" text-anchor="middle">1,100</text>
<text x="383.75" y="1139.6" font-size="31" text-anchor="middle" textLength="228.5" lengthAdjust="spacingAndGlyphs">Frequency (MHz)</text>
<text transform="translate(25.3 891.4) rotate(-90)" font-size="31"><tspan x="0" font-style="italic" textLength="19.5" lengthAdjust="spacingAndGlyphs">S</tspan><tspan x="18.4" dy="4.5" font-size="20">11</tspan><tspan x="53.7" dy="-1.9" font-size="36.5" textLength="9.43" lengthAdjust="spacingAndGlyphs">[</tspan><tspan x="63.13" dy="-2.6" textLength="33.07" lengthAdjust="spacingAndGlyphs">dB</tspan><tspan x="96.2" dy="2.6" font-size="36.5" textLength="9.43" lengthAdjust="spacingAndGlyphs">]</tspan></text>
<text x="374.7" y="1178.2" font-size="30" text-anchor="middle">(c)</text>
</g>
<g id="panel-d">
<line x1="1123.8" y1="617.2" x2="1123.8" y2="1060.6" stroke="#bcbcbc" stroke-width="1.25"/>
<line x1="1123.8" y1="617.2" x2="1123.8" y2="624.8" stroke="#8a8a8a" stroke-width="1.1"/>
<line x1="1123.8" y1="1060.6" x2="1123.8" y2="1053" stroke="#8a8a8a" stroke-width="1.1"/>
<line x1="1130.55" y1="617.2" x2="1130.55" y2="1060.6" stroke="#bcbcbc" stroke-width="1.25"/>
<line x1="1130.55" y1="617.2" x2="1130.55" y2="624.8" stroke="#8a8a8a" stroke-width="1.1"/>
<line x1="1130.55" y1="1060.6" x2="1130.55" y2="1053" stroke="#8a8a8a" stroke-width="1.1"/>
<path d="M963.83 617.2v11.8 M963.83 1060.6v-11.8" stroke="#8c8c8c" stroke-width="0.75" fill="none"/>
<path d="M830.35 728.05h11.8 M1364.25 728.05h-11.8" stroke="#8c8c8c" stroke-width="0.75" fill="none"/>
<path d="M1097.3 617.2v11.8 M1097.3 1060.6v-11.8" stroke="#8c8c8c" stroke-width="0.75" fill="none"/>
<path d="M830.35 838.9h11.8 M1364.25 838.9h-11.8" stroke="#8c8c8c" stroke-width="0.75" fill="none"/>
<path d="M1230.78 617.2v11.8 M1230.78 1060.6v-11.8" stroke="#8c8c8c" stroke-width="0.75" fill="none"/>
<path d="M830.35 949.75h11.8 M1364.25 949.75h-11.8" stroke="#8c8c8c" stroke-width="0.75" fill="none"/>
<g><rect x="882.23" y="913.2" width="4.05" height="28.6" fill="#bf7220"/><rect x="890.28" y="913.2" width="4.05" height="28.6" fill="#bf7220"/><rect x="898.28" y="913.2" width="4.05" height="28.6" fill="#bf7220"/><rect x="906.33" y="913.2" width="4.05" height="28.6" fill="#bf7220"/><rect x="914.33" y="913.2" width="4.05" height="28.6" fill="#bf7220"/><rect x="922.38" y="913.2" width="4.05" height="28.6" fill="#bf7220"/><rect x="930.28" y="913.2" width="4.05" height="28.6" fill="#bf7220"/><rect x="882.23" y="913.2" width="12.1" height="5.6" fill="#bf7220"/><rect x="898.28" y="913.2" width="12.1" height="5.6" fill="#bf7220"/><rect x="914.33" y="913.2" width="12.1" height="5.6" fill="#bf7220"/><rect x="930.28" y="913.2" width="11.97" height="5.6" fill="#bf7220"/><rect x="890.28" y="936.8" width="12.05" height="5" fill="#bf7220"/><rect x="906.33" y="936.8" width="12.05" height="5" fill="#bf7220"/><rect x="922.38" y="936.8" width="11.95" height="5" fill="#bf7220"/><rect x="1041.12" y="913.2" width="4.05" height="28.6" fill="#bf7220"/><rect x="1033.08" y="913.2" width="4.05" height="28.6" fill="#bf7220"/><rect x="1025.08" y="913.2" width="4.05" height="28.6" fill="#bf7220"/><rect x="1017.03" y="913.2" width="4.05" height="28.6" fill="#bf7220"/><rect x="1009.03" y="913.2" width="4.05" height="28.6" fill="#bf7220"/><rect x="1000.98" y="913.2" width="4.05" height="28.6" fill="#bf7220"/><rect x="993.08" y="913.2" width="4.05" height="28.6" fill="#bf7220"/><rect x="1033.08" y="913.2" width="12.1" height="5.6" fill="#bf7220"/><rect x="1017.03" y="913.2" width="12.1" height="5.6" fill="#bf7220"/><rect x="1000.98" y="913.2" width="12.1" height="5.6" fill="#bf7220"/><rect x="985.15" y="913.2" width="11.97" height="5.6" fill="#bf7220"/><rect x="1025.08" y="936.8" width="12.05" height="5" fill="#bf7220"/><rect x="1009.03" y="936.8" width="12.05" height="5" fill="#bf7220"/><rect x="993.08" y="936.8" width="11.95" height="5" fill="#bf7220"/><rect x="883.27" y="914.25" width="1.95" height="26.5" fill="#fff"/><rect x="891.33" y="914.25" width="1.95" height="26.5" fill="#fff"/><rect x="899.33" y="914.25" width="1.95" height="26.5" fill="#fff"/><rect x="907.38" y="914.25" width="1.95" height="26.5" fill="#fff"/><rect x="915.38" y="914.25" width="1.95" height="26.5" fill="#fff"/><rect x="923.42" y="914.25" width="1.95" height="26.5" fill="#fff"/><rect x="931.33" y="914.25" width="1.95" height="26.5" fill="#fff"/><rect x="883.27" y="914.25" width="10" height="3.5" fill="#fff"/><rect x="899.33" y="914.25" width="10" height="3.5" fill="#fff"/><rect x="915.38" y="914.25" width="10" height="3.5" fill="#fff"/><rect x="931.33" y="914.25" width="10.92" height="3.5" fill="#fff"/><rect x="891.33" y="937.85" width="9.95" height="2.9" fill="#fff"/><rect x="907.38" y="937.85" width="9.95" height="2.9" fill="#fff"/><rect x="923.42" y="937.85" width="9.85" height="2.9" fill="#fff"/><rect x="1042.17" y="914.25" width="1.95" height="26.5" fill="#fff"/><rect x="1034.12" y="914.25" width="1.95" height="26.5" fill="#fff"/><rect x="1026.12" y="914.25" width="1.95" height="26.5" fill="#fff"/><rect x="1018.08" y="914.25" width="1.95" height="26.5" fill="#fff"/><rect x="1010.08" y="914.25" width="1.95" height="26.5" fill="#fff"/><rect x="1002.02" y="914.25" width="1.95" height="26.5" fill="#fff"/><rect x="994.12" y="914.25" width="1.95" height="26.5" fill="#fff"/><rect x="1034.12" y="914.25" width="10" height="3.5" fill="#fff"/><rect x="1018.08" y="914.25" width="10" height="3.5" fill="#fff"/><rect x="1002.02" y="914.25" width="10" height="3.5" fill="#fff"/><rect x="985.15" y="914.25" width="10.92" height="3.5" fill="#fff"/><rect x="1026.12" y="937.85" width="9.95" height="2.9" fill="#fff"/><rect x="1010.08" y="937.85" width="9.95" height="2.9" fill="#fff"/><rect x="994.12" y="937.85" width="9.85" height="2.9" fill="#fff"/><rect x="942.25" y="913.2" width="18.75" height="5.3" fill="#bf7220"/><rect x="942.25" y="918.2" width="4.05" height="13.1" fill="#bf7220"/><rect x="966.4" y="913.2" width="18.75" height="5.3" fill="#bf7220"/><rect x="981.1" y="918.2" width="4.05" height="13.1" fill="#bf7220"/><rect x="942.25" y="926.1" width="42.9" height="5.2" fill="#bf7220"/></g>
<path d="M830.5 620.75 L832.05 620.91 L833.59 621.07 L835.11 621.24 L836.65 621.4 L838.19 621.56 L839.76 621.72 L841.36 621.86 L843 622 L844.93 622.14 L846.91 622.27 L848.92 622.39 L850.97 622.5 L853.04 622.6 L855.12 622.7 L857.19 622.8 L859.25 622.9 L861.33 623 L863.42 623.09 L865.51 623.17 L867.6 623.26 L869.7 623.34 L871.8 623.42 L873.9 623.51 L876 623.6 L878.12 623.69 L880.25 623.79 L882.38 623.88 L884.52 623.98 L886.65 624.08 L888.77 624.18 L890.89 624.29 L893 624.4 L895.05 624.51 L897.1 624.63 L899.13 624.75 L901.17 624.87 L903.2 625 L905.22 625.13 L907.24 625.26 L909.25 625.4 L911.22 625.54 L913.18 625.68 L915.13 625.82 L917.08 625.96 L919.03 626.11 L920.98 626.27 L922.93 626.43 L924.9 626.6 L926.91 626.78 L928.93 626.97 L930.95 627.17 L932.98 627.37 L935.01 627.58 L937.04 627.79 L939.07 628.02 L941.1 628.25 L943.14 628.49 L945.18 628.74 L947.23 628.99 L949.27 629.25 L951.32 629.52 L953.35 629.8 L955.38 630.09 L957.4 630.4 L959.37 630.72 L961.32 631.06 L963.27 631.41 L965.21 631.77 L967.14 632.14 L969.09 632.51 L971.04 632.88 L973 633.25 L975.02 633.61 L977.04 633.96 L979.08 634.31 L981.11 634.66 L983.15 635.02 L985.19 635.41 L987.22 635.83 L989.25 636.3 L991.31 636.82 L993.37 637.38 L995.43 637.97 L997.49 638.59 L999.54 639.23 L1001.58 639.88 L1003.6 640.54 L1005.6 641.2 L1007.52 641.83 L1009.42 642.44 L1011.31 643.06 L1013.18 643.69 L1015.05 644.35 L1016.91 645.05 L1018.76 645.79 L1020.6 646.6 L1022.51 647.51 L1024.41 648.47 L1026.31 649.49 L1028.2 650.55 L1030.07 651.64 L1031.93 652.75 L1033.78 653.88 L1035.6 655 L1037.38 656.11 L1039.15 657.23 L1040.91 658.36 L1042.65 659.52 L1044.37 660.69 L1046.07 661.89 L1047.75 663.13 L1049.4 664.4 L1051.04 665.71 L1052.66 667.05 L1054.25 668.41 L1055.83 669.81 L1057.38 671.23 L1058.91 672.69 L1060.42 674.18 L1061.9 675.7 L1063.4 677.3 L1064.89 678.94 L1066.36 680.61 L1067.8 682.32 L1069.21 684.06 L1070.58 685.82 L1071.91 687.6 L1073.2 689.4 L1074.43 691.21 L1075.61 693.04 L1076.75 694.91 L1077.85 696.79 L1078.93 698.7 L1079.97 700.62 L1081 702.55 L1082 704.5 L1082.99 706.5 L1083.94 708.53 L1084.87 710.59 L1085.77 712.67 L1086.66 714.74 L1087.52 716.79 L1088.36 718.82 L1089.2 720.8 L1089.95 722.56 L1090.68 724.29 L1091.41 725.99 L1092.11 727.68 L1092.8 729.37 L1093.48 731.06 L1094.15 732.77 L1094.8 734.5 L1095.45 736.29 L1096.07 738.09 L1096.68 739.91 L1097.28 741.74 L1097.87 743.57 L1098.45 745.39 L1099.02 747.2 L1099.6 749 L1100.16 750.71 L1100.7 752.4 L1101.25 754.07 L1101.79 755.74 L1102.32 757.42 L1102.85 759.12 L1103.38 760.84 L1103.9 762.6 L1104.47 764.57 L1105.03 766.58 L1105.59 768.63 L1106.15 770.69 L1106.69 772.77 L1107.24 774.83 L1107.77 776.88 L1108.3 778.9 L1108.8 780.81 L1109.29 782.71 L1109.78 784.59 L1110.26 786.47 L1110.73 788.34 L1111.2 790.2 L1111.66 792.06 L1112.1 793.9 L1112.51 795.66 L1112.91 797.4 L1113.29 799.14 L1113.67 800.88 L1114.05 802.6 L1114.43 804.31 L1114.81 806.01 L1115.2 807.7 L1115.58 809.33 L1115.96 810.99 L1116.33 812.65 L1116.72 814.3 L1117.1 815.9 L1117.49 817.44 L1117.89 818.9 L1118.3 820.25 L1118.6 821.16 L1118.89 822.03 L1119.19 822.86 L1119.49 823.66 L1119.8 824.42 L1120.12 825.15 L1120.45 825.84 L1120.8 826.5 L1121.09 827.01 L1121.39 827.51 L1121.7 828 L1122.02 828.46 L1122.34 828.89 L1122.66 829.28 L1122.98 829.62 L1123.3 829.9 L1123.51 830.05 L1123.72 830.16 L1123.93 830.25 L1124.15 830.33 L1124.36 830.39 L1124.57 830.45 L1124.79 830.52 L1125 830.6 L1125.18 830.32 L1125.36 830.06 L1125.54 829.8 L1125.72 829.54 L1125.9 829.26 L1126.07 828.97 L1126.24 828.65 L1126.4 828.3 L1126.62 827.69 L1126.82 827.02 L1127 826.3 L1127.17 825.53 L1127.33 824.71 L1127.51 823.87 L1127.69 822.99 L1127.9 822.1 L1128.22 820.8 L1128.56 819.4 L1128.93 817.93 L1129.3 816.41 L1129.69 814.85 L1130.08 813.29 L1130.47 811.73 L1130.85 810.2 L1131.24 808.65 L1131.63 807.1 L1132.02 805.53 L1132.42 803.97 L1132.82 802.4 L1133.21 800.83 L1133.61 799.26 L1134 797.7 L1134.39 796.14 L1134.77 794.59 L1135.14 793.04 L1135.52 791.49 L1135.9 789.93 L1136.29 788.37 L1136.69 786.79 L1137.1 785.2 L1137.55 783.51 L1138 781.81 L1138.47 780.1 L1138.94 778.38 L1139.42 776.65 L1139.91 774.91 L1140.4 773.16 L1140.9 771.4 L1141.42 769.54 L1141.95 767.65 L1142.48 765.75 L1143.02 763.83 L1143.57 761.93 L1144.13 760.03 L1144.71 758.15 L1145.3 756.3 L1145.88 754.55 L1146.48 752.83 L1147.08 751.13 L1147.7 749.43 L1148.33 747.74 L1148.97 746.04 L1149.63 744.33 L1150.3 742.6 L1151.04 740.7 L1151.82 738.73 L1152.62 736.72 L1153.43 734.72 L1154.23 732.76 L1155.02 730.87 L1155.78 729.11 L1156.5 727.5 L1156.96 726.5 L1157.4 725.59 L1157.82 724.74 L1158.24 723.92 L1158.65 723.11 L1159.08 722.29 L1159.53 721.43 L1160 720.5 L1160.62 719.24 L1161.26 717.93 L1161.91 716.57 L1162.58 715.17 L1163.29 713.75 L1164.02 712.32 L1164.79 710.9 L1165.6 709.5 L1166.55 707.95 L1167.56 706.38 L1168.62 704.8 L1169.71 703.22 L1170.83 701.65 L1171.98 700.08 L1173.13 698.53 L1174.3 697 L1175.49 695.46 L1176.69 693.94 L1177.91 692.42 L1179.15 690.91 L1180.42 689.42 L1181.71 687.94 L1183.04 686.49 L1184.4 685.05 L1185.85 683.58 L1187.35 682.11 L1188.88 680.67 L1190.44 679.24 L1192.02 677.83 L1193.63 676.46 L1195.26 675.11 L1196.9 673.8 L1198.55 672.53 L1200.23 671.28 L1201.93 670.06 L1203.64 668.87 L1205.38 667.71 L1207.14 666.57 L1208.91 665.47 L1210.7 664.4 L1212.52 663.36 L1214.36 662.35 L1216.22 661.37 L1218.1 660.42 L1219.99 659.5 L1221.89 658.61 L1223.8 657.74 L1225.7 656.9 L1227.56 656.1 L1229.43 655.33 L1231.3 654.58 L1233.18 653.86 L1235.06 653.16 L1236.96 652.49 L1238.87 651.84 L1240.8 651.2 L1242.78 650.57 L1244.79 649.97 L1246.81 649.39 L1248.84 648.83 L1250.88 648.29 L1252.92 647.78 L1254.96 647.28 L1257 646.8 L1259.03 646.34 L1261.06 645.91 L1263.09 645.5 L1265.13 645.11 L1267.17 644.73 L1269.21 644.38 L1271.26 644.03 L1273.3 643.7 L1275.33 643.39 L1277.37 643.09 L1279.41 642.81 L1281.44 642.54 L1283.48 642.29 L1285.52 642.05 L1287.56 641.82 L1289.6 641.6 L1291.63 641.4 L1293.67 641.21 L1295.7 641.03 L1297.74 640.87 L1299.77 640.72 L1301.81 640.57 L1303.85 640.43 L1305.9 640.3 L1307.97 640.18 L1310.04 640.06 L1312.12 639.96 L1314.2 639.87 L1316.28 639.77 L1318.36 639.69 L1320.43 639.59 L1322.5 639.5 L1324.54 639.4 L1326.57 639.3 L1328.61 639.2 L1330.64 639.11 L1332.66 639.01 L1334.69 638.92 L1336.72 638.83 L1338.75 638.75 L1340.81 638.67 L1342.92 638.6 L1345.05 638.53 L1347.17 638.46 L1349.25 638.4 L1351.27 638.35 L1353.2 638.29 L1355 638.25 L1356.25 638.22 L1357.44 638.2 L1358.57 638.18 L1359.66 638.16 L1360.74 638.15 L1361.81 638.13 L1362.89 638.12 L1364 638.1" fill="none" stroke="#0a28ff" stroke-width="2.35" stroke-dasharray="8.3 8.3" stroke-linejoin="round"/>
<path d="M830.5 619.5 L831.8 619.7 L833.1 619.78 L834.4 619.63 L835.71 619.2 L837 619.61 L838.31 619.4 L839.59 619.82 L840.91 619.46 L842.19 620.07 L843.49 620.01 L844.77 620.51 L846.08 620.17 L847.38 620.28 L848.69 620.07 L850 620.06 L851.24 620.76 L852.57 620.51 L853.84 620.77 L855.14 620.89 L856.4 621.21 L857.8 620.75 L859.08 620.97 L860.25 621.82 L861.45 622.52 L862.92 621.59 L864.15 622.11 L865.4 622.55 L866.72 622.49 L868.01 622.69 L869.3 622.78 L870.56 623.26 L871.88 623.11 L873.18 623.24 L874.5 622.95 L875.76 623.54 L877.04 623.91 L878.36 623.68 L879.67 623.49 L880.98 623.31 L882.26 623.84 L883.56 623.89 L884.86 623.75 L886.18 623.23 L887.47 623.69 L888.77 623.63 L890.07 623.73 L891.36 624.07 L892.67 623.75 L893.96 624 L895.25 624.44 L896.56 623.9 L897.86 624.1 L899.16 624.3 L900.45 623.95 L901.75 623.68 L903.06 624.14 L904.37 624.24 L905.63 623.46 L906.94 623.76 L908.23 623.61 L909.57 623.99 L910.8 623.1 L912.13 623.36 L913.4 622.94 L914.71 622.99 L916.03 623.21 L917.32 623.06 L918.62 623.07 L919.92 622.89 L921.22 622.63 L922.53 623.3 L923.83 623.44 L925.12 623.03 L926.43 622.96 L927.72 623.43 L929.02 623.24 L930.32 623.2 L931.61 623.42 L932.93 622.98 L934.23 623.05 L935.52 623.39 L936.84 623.13 L938.11 623.54 L939.41 623.7 L940.69 623.9 L941.99 624.02 L943.33 623.63 L944.59 624.13 L945.86 624.42 L947.13 624.76 L948.41 624.94 L949.75 624.78 L951.03 625 L952.36 624.94 L953.61 625.34 L954.91 625.47 L956.22 625.56 L957.45 626.08 L958.64 626.71 L959.83 627.21 L961.14 627.33 L962.37 627.76 L963.46 628.48 L964.55 629.21 L965.74 629.75 L966.92 630.29 L968.16 630.71 L969.34 631.26 L970.23 632.44 L971.54 632.69 L972.94 632.77 L973.92 633.74 L975.28 633.86 L976.43 634.47 L977.69 634.29 L979 634.18 L980.29 633.97 L981.29 634.81 L982.21 635.75 L983.24 636.55 L984.67 636.75 L985.31 638.15 L986.9 638.01 L987.94 638.78 L988.98 639.6 L990.03 640.41 L991.29 640.77 L992.55 641.09 L993.71 641.8 L994.95 641.67 L995.43 640.46 L996.15 639.36 L996.28 638 L997.51 638.89 L998.82 639.02 L1000.17 639.05 L1001.41 639.43 L1002.65 639.82 L1003.86 640.32 L1005.14 640.58 L1006.48 640.59 L1007.75 640.85 L1008.88 641.72 L1010.3 641.37 L1011.53 641.82 L1012.66 642.66 L1014.1 642.3 L1015.22 643.15 L1016.43 643.63 L1017.58 644.34 L1018.91 644.41 L1020.24 644.49 L1021.58 644.56 L1022.62 645.57 L1023.85 645.95 L1025.05 646.46 L1026.28 646.89 L1027.64 646.94 L1028.89 647.29 L1030.19 647.55 L1031.23 648.44 L1032.38 649.06 L1033.68 649.37 L1034.63 650.28 L1035.41 651.29 L1036.1 652.38 L1037.36 653.07 L1038.04 654.17 L1039.25 654.26 L1040.53 654.43 L1041.75 655.1 L1042.97 655.4 L1044.32 655.46 L1045.47 656.11 L1046.68 656.64 L1047.37 657.92 L1048.81 658.13 L1049.8 658.99 L1050.91 659.69 L1051.65 660.83 L1052.85 661.43 L1054.08 662 L1054.69 663.28 L1055.68 664.12 L1056.69 664.94 L1057.58 665.9 L1058.44 666.87 L1059.28 667.85 L1059.95 668.98 L1060.82 669.92 L1061.47 671.05 L1062.26 672.09 L1062.93 673.18 L1063.71 674.24 L1064.28 675.41 L1065.19 676.4 L1065.2 677.85 L1065.57 679.13 L1066.68 680.02 L1067.48 681.07 L1067.77 682.39 L1068.51 683.47 L1068.8 684.78 L1069.99 685.64 L1069.79 687.18 L1070.4 688.33 L1071.21 689.38 L1072.4 690.24 L1072.57 691.61 L1072.72 692.99 L1073.67 693.97 L1074.53 694.98 L1074.87 696.27 L1075.48 697.42 L1076.31 698.48 L1076.52 699.8 L1076.69 701.12 L1077.08 702.34 L1077.42 703.6 L1077.93 704.8 L1078.51 705.99 L1078.68 707.29 L1078.47 708.68 L1079.13 709.86 L1079.39 711.13 L1080.15 712.29 L1079.86 713.69 L1080.41 714.9 L1080.36 716.27 L1081.24 717.37 L1081.55 718.63 L1082.05 719.83 L1082.65 720.98 L1083.11 722.2 L1083.54 723.43 L1084.11 724.6 L1085.21 724.4 L1086.56 724.21 L1086.96 724.27 L1087.49 725.46 L1088.33 726.51 L1088.21 727.97 L1089.36 728.92 L1090.1 730.05 L1089.85 731.49 L1090.02 732.78 L1090.59 733.99 L1090.12 735.37 L1091.06 736.58 L1091.16 737.88 L1090.88 739.21 L1091.07 740.5 L1091.19 741.79 L1091.12 743.11 L1091.51 744.36 L1091.35 745.72 L1092.39 746.83 L1092.14 748.22 L1092.04 749.58 L1092.84 750.73 L1092.98 752.03 L1094.24 752.32 L1095 751.75 L1095.36 753 L1096.21 754.16 L1095.97 755.53 L1095.74 756.9 L1096.29 758.12 L1096.8 759.34 L1096.74 760.68 L1097.07 761.94 L1097.26 763.23 L1097.71 764.46 L1097.83 765.77 L1098.46 766.94 L1098.18 768.39 L1098.95 769.53 L1099.78 770.58 L1100.41 771.03 L1100.42 769.72 L1100.67 768.44 L1100.63 767.12 L1100.88 765.84 L1101.02 764.55 L1101.21 763.26 L1101.97 762.87 L1103.31 762.87 L1104.15 763.82 L1104.11 765.13 L1104.63 766.38 L1104.53 767.7 L1104.63 769 L1104.8 770.29 L1105.1 771.56 L1106 772.73 L1105.45 774.13 L1105.61 775.43 L1106.12 776.66 L1105.93 778.01 L1106.42 779.24 L1106.88 780.47 L1107.01 781.77 L1107.19 783.06 L1107.68 784.28 L1108.01 785.51 L1108.15 786.85 L1108.45 788.15 L1109.52 789.09 L1110.09 790.26 L1110.02 791.69 L1110.96 792.74 L1111.27 794.01 L1111.55 795.28 L1111.67 796.58 L1111.88 797.86 L1112.04 799.16 L1112.14 800.48 L1112.61 801.72 L1113 802.96 L1114.14 803.89 L1114.16 805.31 L1114.18 806.67 L1115.39 807.62 L1115.17 809.03 L1116.04 810.17 L1116.2 811.46 L1116.47 812.74 L1116.98 813.97 L1116.79 815.32 L1117.2 816.57 L1117.42 817.57 L1117.14 816.16 L1117.28 814.86 L1118.58 813.84 L1118.33 812.44 L1118.75 811.2 L1118.43 810.62 L1119.47 811.7 L1120.06 812.89 L1120.06 814.23 L1120.21 814.87 L1120.36 813.58 L1120.78 812.33 L1120.55 810.98 L1121.39 809.8 L1121.26 808.46 L1121.59 808.21 L1121.24 809.56 L1122.33 810.73 L1122.17 812.07 L1121.78 813.42 L1122.22 814.68 L1122.34 815.97 L1122.73 817.24 L1123.03 816.89 L1123.07 815.58 L1122.82 814.25 L1122.83 812.95 L1123.02 811.66 L1123.35 810.39 L1123.36 809.07 L1123.03 807.69 L1123.74 806.49 L1124.33 805.28 L1124.84 804.08 L1125.07 802.79 L1125.1 801.42 L1125.79 800.29 L1126.52 799.17 L1126.46 797.78 L1127.13 796.63 L1127.38 795.35 L1127.95 794.17 L1128.23 792.89 L1128.25 791.58 L1128.87 790.37 L1128.94 789.06 L1129 787.75 L1129.53 786.53 L1129.95 785.29 L1129.74 783.92 L1129.97 782.63 L1130.71 781.47 L1130.6 780.11 L1131.21 778.92 L1131.78 777.72 L1131.7 776.36 L1132.11 775.12 L1132.31 773.83 L1132.81 772.62 L1132.72 771.25 L1132.98 769.99 L1133.64 768.8 L1133.37 767.41 L1134.6 766.36 L1134.96 765.11 L1134.89 763.76 L1135.02 762.45 L1135.39 761.2 L1136.04 760.04 L1136.42 758.76 L1137.56 758.1 L1138.24 756.94 L1139.28 756.06 L1139.54 754.76 L1139.72 753.48 L1140.68 752.4 L1141.01 751.14 L1141.12 749.82 L1141.36 748.54 L1141.73 747.3 L1142.03 746.03 L1142.21 744.73 L1142.92 743.58 L1143.31 742.34 L1143.62 741.08 L1143.93 739.81 L1144.26 738.55 L1144.7 737.33 L1145.26 736.15 L1145.28 734.77 L1145.78 733.57 L1146.62 732.49 L1146.85 731.18 L1147.78 730.15 L1147.98 728.83 L1148.49 727.64 L1149.28 726.55 L1149.76 725.35 L1150.03 724.05 L1150.5 722.84 L1151.39 721.82 L1151.41 720.39 L1151.94 719.2 L1152.74 718.14 L1153.12 716.87 L1153.88 715.79 L1154.87 714.87 L1155.67 713.84 L1156.07 712.56 L1156.81 711.48 L1157.29 710.25 L1158.41 709.42 L1158.9 708.19 L1159.36 706.94 L1160.26 705.97 L1161.04 704.93 L1161.86 703.92 L1162.82 703.02 L1163.39 701.83 L1163.73 700.44 L1164.86 699.67 L1165.98 698.91 L1166.38 697.54 L1167.62 696.91 L1168.07 695.51 L1169.65 695.35 L1170.28 694.03 L1171.58 693.63 L1172.49 692.63 L1173.96 692.54 L1174.78 691.38 L1175.99 690.87 L1176.72 689.62 L1178.05 689.27 L1178.94 688.27 L1179.87 687.32 L1181.24 687.02 L1182.32 686.29 L1183.64 685.97 L1184.67 685.16 L1185.66 684.28 L1186.92 683.88 L1188.11 683.35 L1189.09 682.38 L1190.44 682.21 L1191.59 681.61 L1192.86 681.27 L1194.06 680.76 L1195.28 680.32 L1196.45 679.75 L1197.67 679.29 L1198.86 678.78 L1200.12 678.43 L1201.16 677.52 L1202.37 677.05 L1203.71 676.9 L1204.85 676.24 L1206.13 675.96 L1207.24 675.22 L1208.4 674.59 L1209.7 674.36 L1210.91 673.87 L1212.18 673.57 L1213.48 673.38 L1214.59 672.57 L1215.85 672.25 L1217.13 672.01 L1218.38 671.62 L1219.71 671.47 L1220.81 670.71 L1221.85 669.85 L1223.37 670.04 L1224.34 669.07 L1225.61 668.68 L1226.63 667.84 L1227.7 667.09 L1229.34 667.32 L1229.86 665.64 L1231.22 665.38 L1232.31 664.67 L1233.33 663.84 L1234.61 663.46 L1235.74 662.81 L1236.79 662.03 L1237.95 661.46 L1239.02 660.7 L1240.06 659.88 L1241.19 659.24 L1242.56 659.05 L1243.62 658.27 L1244.94 658 L1245.91 657.04 L1247.3 656.94 L1248.23 655.82 L1249.59 655.68 L1250.64 654.81 L1251.93 654.54 L1253.32 654.58 L1254.45 653.86 L1255.66 653.39 L1256.85 652.85 L1258.1 652.5 L1259.25 651.81 L1260.6 651.78 L1261.84 651.39 L1263.19 651.41 L1264.39 650.86 L1265.61 650.36 L1266.9 650.16 L1268.18 649.95 L1269.43 649.56 L1270.79 649.8 L1271.96 648.92 L1273.28 648.93 L1274.5 648.32 L1275.86 648.55 L1277.2 648.83 L1278.49 648.76 L1279.75 648.27 L1281.04 648.13 L1282.34 648.08 L1283.63 647.92 L1284.93 647.76 L1286.21 647.39 L1287.52 647.23 L1288.82 647.42 L1290.13 647.65 L1291.43 647.77 L1292.74 647.35 L1294.03 647.73 L1295.32 647.87 L1296.61 648.34 L1297.92 647.95 L1299.24 647.68 L1300.51 648.18 L1301.82 648.21 L1303.1 648.48 L1304.39 648.64 L1305.7 648.54 L1307.01 648.47 L1308.3 648.65 L1309.58 648.91 L1310.86 649.18 L1312.13 649.54 L1313.47 649.22 L1314.72 649.68 L1315.98 650.03 L1317.36 649.55 L1318.63 649.84 L1319.86 650.45 L1321.17 650.46 L1322.46 650.69 L1323.77 650.7 L1325.03 651.24 L1326.36 650.84 L1327.67 650.86 L1328.98 650.69 L1330.27 650.77 L1331.56 650.85 L1332.85 651.26 L1334.16 651.13 L1335.45 651.79 L1336.76 650.81 L1338.05 651.04 L1339.35 651.12 L1340.66 651.44 L1341.96 651.26 L1343.26 651.52 L1344.56 651.17 L1345.83 650.67 L1347.13 650.71 L1348.46 651.01 L1349.73 650.6 L1351.04 650.65 L1352.29 650.1 L1353.61 650.31 L1354.91 650.21 L1356.23 650.3 L1357.46 649.68 L1358.72 649.27 L1360.09 649.7 L1361.37 649.48 L1362.66 649.31 L1363.92 648.9 L1364 649.1" fill="none" stroke="#ff0000" stroke-width="2.45" stroke-linejoin="round"/>
<rect x="830.35" y="617.2" width="533.9" height="443.4" fill="none" stroke="#151515" stroke-width="1.3"/>
<rect x="846.65" y="966.5" width="197" height="80.4" fill="#fff" stroke="#151515" stroke-width="1.2"/>
<line x1="856.15" y1="989.5" x2="897.65" y2="989.5" stroke="#0a28ff" stroke-width="2.2" stroke-dasharray="8.3 8.3"/>
<line x1="856.15" y1="1024.05" x2="902.95" y2="1024.05" stroke="#ff0000" stroke-width="2.2"/>
<text x="909.65" y="996.4" font-size="27.5" textLength="119.5" lengthAdjust="spacingAndGlyphs">calculated</text>
<text x="912.75" y="1031.5" font-size="27.5" textLength="113" lengthAdjust="spacingAndGlyphs">measured</text>
<text x="819.95" y="627.3" font-size="31" text-anchor="end">0</text>
<text y="736.95" font-size="31"><tspan x="766.85" dy="2.1" textLength="22.3" lengthAdjust="spacingAndGlyphs">−</tspan><tspan x="788.95" dy="-2.1">10</tspan></text>
<text y="847.8" font-size="31"><tspan x="766.85" dy="2.1" textLength="22.3" lengthAdjust="spacingAndGlyphs">−</tspan><tspan x="788.95" dy="-2.1">20</tspan></text>
<text y="958.65" font-size="31"><tspan x="766.85" dy="2.1" textLength="22.3" lengthAdjust="spacingAndGlyphs">−</tspan><tspan x="788.95" dy="-2.1">30</tspan></text>
<text y="1069.5" font-size="31"><tspan x="766.85" dy="2.1" textLength="22.3" lengthAdjust="spacingAndGlyphs">−</tspan><tspan x="788.95" dy="-2.1">40</tspan></text>
<text x="830.35" y="1090.8" font-size="31" text-anchor="middle">700</text>
<text x="963.83" y="1090.8" font-size="31" text-anchor="middle">800</text>
<text x="1097.3" y="1090.8" font-size="31" text-anchor="middle">900</text>
<text x="1230.78" y="1090.8" font-size="31" text-anchor="middle">1,000</text>
<text x="1364.25" y="1090.8" font-size="31" text-anchor="middle">1,100</text>
<text x="1096.9" y="1139.6" font-size="31" text-anchor="middle" textLength="228.5" lengthAdjust="spacingAndGlyphs">Frequency (MHz)</text>
<text transform="translate(738.45 891.4) rotate(-90)" font-size="31"><tspan x="0" font-style="italic" textLength="19.5" lengthAdjust="spacingAndGlyphs">S</tspan><tspan x="18.4" dy="4.5" font-size="20">11</tspan><tspan x="53.7" dy="-1.9" font-size="36.5" textLength="9.43" lengthAdjust="spacingAndGlyphs">[</tspan><tspan x="63.13" dy="-2.6" textLength="33.07" lengthAdjust="spacingAndGlyphs">dB</tspan><tspan x="96.2" dy="2.6" font-size="36.5" textLength="9.43" lengthAdjust="spacingAndGlyphs">]</tspan></text>
<text x="1100.5" y="1178.2" font-size="30" text-anchor="middle">(d)</text>
</g>
</svg></body></html>
